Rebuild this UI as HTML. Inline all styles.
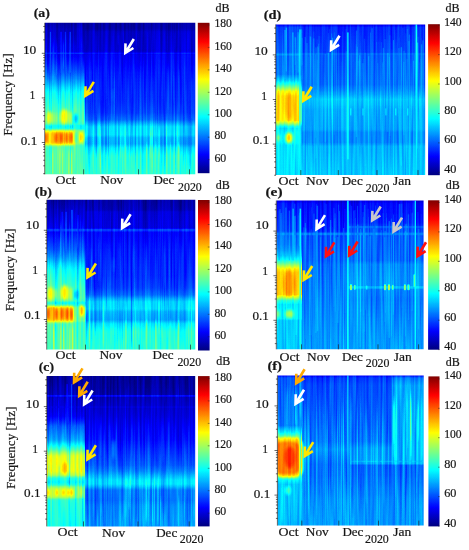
<!DOCTYPE html>
<html><head><meta charset="utf-8"><style>
html,body{margin:0;padding:0;background:#fff;}
body{width:469px;height:550px;overflow:hidden;}
svg{display:block;}
text{font-family:'Liberation Serif', 'DejaVu Serif', serif;fill:#161616;stroke:#161616;stroke-width:0.2px;}
</style></head><body>
<svg width="469" height="550" viewBox="0 0 469 550">
<defs><filter id="jet" color-interpolation-filters="sRGB" x="0" y="0" width="1" height="1">
<feTurbulence type="fractalNoise" baseFrequency="0.45 0.012" numOctaves="2" seed="5" result="n"/>
<feColorMatrix in="n" type="matrix" values="1 0 0 0 0 1 0 0 0 0 1 0 0 0 0 0 0 0 0 1" result="ng"/>
<feComposite in="SourceGraphic" in2="ng" operator="arithmetic" k1="0" k2="1" k3="0.13" k4="-0.065" result="sum"/>
<feGaussianBlur in="sum" stdDeviation="0.6 0.4"/>
<feComponentTransfer>
<feFuncR type="table" tableValues="0 0 0 0 0.5 1 1 1 0.5"/>
<feFuncG type="table" tableValues="0 0 0.5 1 1 1 0.5 0 0"/>
<feFuncB type="table" tableValues="0.5 1 1 1 0.5 0 0 0 0"/>
</feComponentTransfer></filter><filter id="jetc" color-interpolation-filters="sRGB" x="0" y="0" width="1" height="1">
<feComponentTransfer>
<feFuncR type="table" tableValues="0 0 0 0 0.5 1 1 1 0.5"/>
<feFuncG type="table" tableValues="0 0 0.5 1 1 1 0.5 0 0"/>
<feFuncB type="table" tableValues="0.5 1 1 1 0.5 0 0 0 0"/>
</feComponentTransfer></filter><filter id="b05" color-interpolation-filters="sRGB" x="-50%" y="-50%" width="200%" height="200%"><feGaussianBlur stdDeviation="0.5"/></filter><filter id="b07" color-interpolation-filters="sRGB" x="-50%" y="-50%" width="200%" height="200%"><feGaussianBlur stdDeviation="0.7"/></filter><filter id="b1" color-interpolation-filters="sRGB" x="-50%" y="-50%" width="200%" height="200%"><feGaussianBlur stdDeviation="1.0"/></filter><filter id="b15" color-interpolation-filters="sRGB" x="-50%" y="-50%" width="200%" height="200%"><feGaussianBlur stdDeviation="1.5"/></filter><filter id="b2" color-interpolation-filters="sRGB" x="-50%" y="-50%" width="200%" height="200%"><feGaussianBlur stdDeviation="2.0"/></filter><linearGradient id="sfw" x1="0" y1="0" x2="0" y2="1"><stop offset="0" stop-color="#fff" stop-opacity="0"/><stop offset="0.25" stop-color="#fff" stop-opacity="1"/><stop offset="0.85" stop-color="#fff" stop-opacity="1"/><stop offset="1" stop-color="#fff" stop-opacity="0.3"/></linearGradient><linearGradient id="sfk" x1="0" y1="0" x2="0" y2="1"><stop offset="0" stop-color="#000" stop-opacity="0"/><stop offset="0.25" stop-color="#000" stop-opacity="1"/><stop offset="0.85" stop-color="#000" stop-opacity="1"/><stop offset="1" stop-color="#000" stop-opacity="0.3"/></linearGradient><linearGradient id="cbg" x1="0" y1="1" x2="0" y2="0"><stop offset="0" stop-color="#000"/><stop offset="1" stop-color="#fff"/></linearGradient><clipPath id="clipa"><rect x="45.0" y="22.8" width="150.30" height="151.50"/></clipPath><linearGradient id="g1" gradientUnits="userSpaceOnUse" x1="0" y1="18.8" x2="0" y2="178.3"><stop offset="0.0000" stop-color="#090909"/><stop offset="0.0251" stop-color="#090909"/><stop offset="0.0627" stop-color="#0b0b0b"/><stop offset="0.0815" stop-color="#131313"/><stop offset="0.2006" stop-color="#161616"/><stop offset="0.2257" stop-color="#1f1f1f"/><stop offset="0.3386" stop-color="#252525"/><stop offset="0.5078" stop-color="#2a2a2a"/><stop offset="0.5893" stop-color="#303030"/><stop offset="0.6332" stop-color="#3b3b3b"/><stop offset="0.6583" stop-color="#4c4c4c"/><stop offset="0.6771" stop-color="#575757"/><stop offset="0.7273" stop-color="#575757"/><stop offset="0.7461" stop-color="#4c4c4c"/><stop offset="0.7837" stop-color="#4a4a4a"/><stop offset="0.8088" stop-color="#595959"/><stop offset="0.8589" stop-color="#666666"/><stop offset="0.9749" stop-color="#696969"/><stop offset="1.0000" stop-color="#696969"/></linearGradient><linearGradient id="g2" gradientUnits="userSpaceOnUse" x1="0" y1="18.8" x2="0" y2="178.3"><stop offset="0.0000" stop-color="#0a0a0a"/><stop offset="0.0251" stop-color="#0a0a0a"/><stop offset="0.0752" stop-color="#121212"/><stop offset="0.2132" stop-color="#1a1a1a"/><stop offset="0.2759" stop-color="#262626"/><stop offset="0.3386" stop-color="#363636"/><stop offset="0.3824" stop-color="#454545"/><stop offset="0.4263" stop-color="#575757"/><stop offset="0.4639" stop-color="#636363"/><stop offset="0.5266" stop-color="#6b6b6b"/><stop offset="0.5893" stop-color="#757575"/><stop offset="0.6395" stop-color="#7a7a7a"/><stop offset="0.6583" stop-color="#757575"/><stop offset="0.6708" stop-color="#636363"/><stop offset="0.6897" stop-color="#666666"/><stop offset="0.7022" stop-color="#808080"/><stop offset="0.7837" stop-color="#808080"/><stop offset="0.7962" stop-color="#737373"/><stop offset="0.9749" stop-color="#737373"/><stop offset="1.0000" stop-color="#737373"/></linearGradient><linearGradient id="fg3" x1="0" y1="0" x2="0" y2="1"><stop offset="0" stop-color="#8f8f8f" stop-opacity="0"/><stop offset="0.3" stop-color="#8f8f8f" stop-opacity="1"/><stop offset="1" stop-color="#8f8f8f" stop-opacity="1"/></linearGradient><linearGradient id="fg4" x1="0" y1="0" x2="0" y2="1"><stop offset="0" stop-color="#8c8c8c" stop-opacity="0"/><stop offset="0.3" stop-color="#8c8c8c" stop-opacity="1"/><stop offset="1" stop-color="#8c8c8c" stop-opacity="1"/></linearGradient><linearGradient id="fg5" x1="0" y1="0" x2="0" y2="1"><stop offset="0" stop-color="#919191" stop-opacity="0"/><stop offset="0.3" stop-color="#919191" stop-opacity="1"/><stop offset="1" stop-color="#919191" stop-opacity="1"/></linearGradient><linearGradient id="fg6" x1="0" y1="0" x2="0" y2="1"><stop offset="0" stop-color="#949494" stop-opacity="0"/><stop offset="0.3" stop-color="#949494" stop-opacity="1"/><stop offset="1" stop-color="#949494" stop-opacity="1"/></linearGradient><linearGradient id="fg7" x1="0" y1="0" x2="0" y2="1"><stop offset="0" stop-color="#808080" stop-opacity="0"/><stop offset="0.3" stop-color="#808080" stop-opacity="1"/><stop offset="1" stop-color="#808080" stop-opacity="1"/></linearGradient><linearGradient id="fg8" x1="0" y1="0" x2="0" y2="1"><stop offset="0" stop-color="#7a7a7a" stop-opacity="0"/><stop offset="0.3" stop-color="#7a7a7a" stop-opacity="1"/><stop offset="1" stop-color="#7a7a7a" stop-opacity="1"/></linearGradient><clipPath id="clipb"><rect x="47.0" y="199.8" width="148.30" height="149.80"/></clipPath><linearGradient id="g9" gradientUnits="userSpaceOnUse" x1="0" y1="195.8" x2="0" y2="353.6"><stop offset="0.0000" stop-color="#090909"/><stop offset="0.0253" stop-color="#090909"/><stop offset="0.0887" stop-color="#0d0d0d"/><stop offset="0.1014" stop-color="#141414"/><stop offset="0.2028" stop-color="#171717"/><stop offset="0.2281" stop-color="#1f1f1f"/><stop offset="0.3422" stop-color="#252525"/><stop offset="0.5133" stop-color="#2a2a2a"/><stop offset="0.5830" stop-color="#303030"/><stop offset="0.6274" stop-color="#3b3b3b"/><stop offset="0.6527" stop-color="#4c4c4c"/><stop offset="0.6717" stop-color="#575757"/><stop offset="0.7161" stop-color="#575757"/><stop offset="0.7351" stop-color="#4c4c4c"/><stop offset="0.7858" stop-color="#474747"/><stop offset="0.8112" stop-color="#595959"/><stop offset="0.8619" stop-color="#666666"/><stop offset="0.9747" stop-color="#696969"/><stop offset="1.0000" stop-color="#696969"/></linearGradient><linearGradient id="g10" gradientUnits="userSpaceOnUse" x1="0" y1="195.8" x2="0" y2="353.6"><stop offset="0.0000" stop-color="#0a0a0a"/><stop offset="0.0253" stop-color="#0a0a0a"/><stop offset="0.0887" stop-color="#121212"/><stop offset="0.2155" stop-color="#1c1c1c"/><stop offset="0.2788" stop-color="#292929"/><stop offset="0.3422" stop-color="#363636"/><stop offset="0.3929" stop-color="#474747"/><stop offset="0.4309" stop-color="#575757"/><stop offset="0.4689" stop-color="#636363"/><stop offset="0.5323" stop-color="#6b6b6b"/><stop offset="0.5957" stop-color="#757575"/><stop offset="0.6464" stop-color="#7a7a7a"/><stop offset="0.6654" stop-color="#757575"/><stop offset="0.6781" stop-color="#636363"/><stop offset="0.6971" stop-color="#666666"/><stop offset="0.7098" stop-color="#808080"/><stop offset="0.7921" stop-color="#808080"/><stop offset="0.8048" stop-color="#737373"/><stop offset="0.9747" stop-color="#737373"/><stop offset="1.0000" stop-color="#737373"/></linearGradient><clipPath id="clipc"><rect x="47.0" y="376.1" width="148.20" height="150.30"/></clipPath><linearGradient id="g11" gradientUnits="userSpaceOnUse" x1="0" y1="372.1" x2="0" y2="530.4"><stop offset="0.0000" stop-color="#050505"/><stop offset="0.0253" stop-color="#050505"/><stop offset="0.0758" stop-color="#080808"/><stop offset="0.1327" stop-color="#0a0a0a"/><stop offset="0.1642" stop-color="#0f0f0f"/><stop offset="0.2148" stop-color="#131313"/><stop offset="0.2780" stop-color="#171717"/><stop offset="0.4296" stop-color="#222222"/><stop offset="0.5875" stop-color="#363636"/><stop offset="0.6254" stop-color="#414141"/><stop offset="0.6570" stop-color="#4f4f4f"/><stop offset="0.6822" stop-color="#595959"/><stop offset="0.7075" stop-color="#595959"/><stop offset="0.7265" stop-color="#4c4c4c"/><stop offset="0.7454" stop-color="#3d3d3d"/><stop offset="0.8086" stop-color="#3b3b3b"/><stop offset="0.8465" stop-color="#404040"/><stop offset="0.9747" stop-color="#454545"/><stop offset="1.0000" stop-color="#454545"/></linearGradient><linearGradient id="g12" gradientUnits="userSpaceOnUse" x1="0" y1="372.1" x2="0" y2="530.4"><stop offset="0.0000" stop-color="#060606"/><stop offset="0.0253" stop-color="#060606"/><stop offset="0.0758" stop-color="#0a0a0a"/><stop offset="0.1390" stop-color="#0e0e0e"/><stop offset="0.2148" stop-color="#131313"/><stop offset="0.2780" stop-color="#1a1a1a"/><stop offset="0.3095" stop-color="#262626"/><stop offset="0.3411" stop-color="#363636"/><stop offset="0.3917" stop-color="#424242"/><stop offset="0.4296" stop-color="#4c4c4c"/><stop offset="0.4611" stop-color="#616161"/><stop offset="0.4927" stop-color="#787878"/><stop offset="0.5117" stop-color="#8c8c8c"/><stop offset="0.5306" stop-color="#999999"/><stop offset="0.6254" stop-color="#9e9e9e"/><stop offset="0.6507" stop-color="#8f8f8f"/><stop offset="0.6696" stop-color="#6b6b6b"/><stop offset="0.6949" stop-color="#616161"/><stop offset="0.7138" stop-color="#6b6b6b"/><stop offset="0.7265" stop-color="#7d7d7d"/><stop offset="0.7896" stop-color="#7d7d7d"/><stop offset="0.8023" stop-color="#6b6b6b"/><stop offset="0.9747" stop-color="#636363"/><stop offset="1.0000" stop-color="#636363"/></linearGradient><linearGradient id="fg13" x1="0" y1="0" x2="0" y2="1"><stop offset="0" stop-color="#5c5c5c" stop-opacity="0"/><stop offset="0.3" stop-color="#5c5c5c" stop-opacity="1"/><stop offset="1" stop-color="#5c5c5c" stop-opacity="1"/></linearGradient><clipPath id="clipd"><rect x="276.0" y="24.4" width="149.20" height="150.70"/></clipPath><linearGradient id="g14" gradientUnits="userSpaceOnUse" x1="0" y1="20.4" x2="0" y2="179.1"><stop offset="0.0000" stop-color="#1a1a1a"/><stop offset="0.0252" stop-color="#1a1a1a"/><stop offset="0.0441" stop-color="#2b2b2b"/><stop offset="0.2016" stop-color="#303030"/><stop offset="0.2111" stop-color="#3b3b3b"/><stop offset="0.2205" stop-color="#363636"/><stop offset="0.4033" stop-color="#383838"/><stop offset="0.4411" stop-color="#404040"/><stop offset="0.4663" stop-color="#474747"/><stop offset="0.4978" stop-color="#525252"/><stop offset="0.5293" stop-color="#4f4f4f"/><stop offset="0.5671" stop-color="#4a4a4a"/><stop offset="0.6868" stop-color="#474747"/><stop offset="0.7057" stop-color="#404040"/><stop offset="0.7687" stop-color="#404040"/><stop offset="0.7940" stop-color="#4c4c4c"/><stop offset="0.9748" stop-color="#525252"/><stop offset="1.0000" stop-color="#525252"/></linearGradient><linearGradient id="g15" gradientUnits="userSpaceOnUse" x1="0" y1="20.4" x2="0" y2="179.1"><stop offset="0.0000" stop-color="#1a1a1a"/><stop offset="0.0252" stop-color="#1a1a1a"/><stop offset="0.0441" stop-color="#2e2e2e"/><stop offset="0.2016" stop-color="#333333"/><stop offset="0.2142" stop-color="#424242"/><stop offset="0.2268" stop-color="#383838"/><stop offset="0.3403" stop-color="#3d3d3d"/><stop offset="0.3781" stop-color="#545454"/><stop offset="0.4033" stop-color="#696969"/><stop offset="0.4222" stop-color="#808080"/><stop offset="0.4474" stop-color="#9e9e9e"/><stop offset="0.4789" stop-color="#a8a8a8"/><stop offset="0.6301" stop-color="#a8a8a8"/><stop offset="0.6490" stop-color="#8c8c8c"/><stop offset="0.6679" stop-color="#666666"/><stop offset="0.6805" stop-color="#5c5c5c"/><stop offset="0.7057" stop-color="#616161"/><stop offset="0.7687" stop-color="#616161"/><stop offset="0.7876" stop-color="#5c5c5c"/><stop offset="0.9748" stop-color="#595959"/><stop offset="1.0000" stop-color="#595959"/></linearGradient><clipPath id="clipe"><rect x="276.6" y="200.6" width="147.00" height="148.70"/></clipPath><linearGradient id="g16" gradientUnits="userSpaceOnUse" x1="0" y1="196.6" x2="0" y2="353.3"><stop offset="0.0000" stop-color="#171717"/><stop offset="0.0255" stop-color="#171717"/><stop offset="0.0447" stop-color="#212121"/><stop offset="0.2106" stop-color="#262626"/><stop offset="0.2425" stop-color="#303030"/><stop offset="0.4084" stop-color="#343434"/><stop offset="0.4340" stop-color="#383838"/><stop offset="0.6573" stop-color="#3e3e3e"/><stop offset="0.7849" stop-color="#424242"/><stop offset="0.9745" stop-color="#474747"/><stop offset="1.0000" stop-color="#474747"/></linearGradient><linearGradient id="g17" gradientUnits="userSpaceOnUse" x1="0" y1="196.6" x2="0" y2="353.3"><stop offset="0.0000" stop-color="#1a1a1a"/><stop offset="0.0255" stop-color="#1a1a1a"/><stop offset="0.0447" stop-color="#262626"/><stop offset="0.2170" stop-color="#2e2e2e"/><stop offset="0.2425" stop-color="#383838"/><stop offset="0.3063" stop-color="#3d3d3d"/><stop offset="0.3446" stop-color="#454545"/><stop offset="0.3765" stop-color="#525252"/><stop offset="0.4020" stop-color="#616161"/><stop offset="0.4212" stop-color="#737373"/><stop offset="0.4403" stop-color="#8a8a8a"/><stop offset="0.4595" stop-color="#a1a1a1"/><stop offset="0.4850" stop-color="#ababab"/><stop offset="0.6254" stop-color="#ababab"/><stop offset="0.6445" stop-color="#8f8f8f"/><stop offset="0.6637" stop-color="#6b6b6b"/><stop offset="0.6892" stop-color="#5c5c5c"/><stop offset="0.7147" stop-color="#5e5e5e"/><stop offset="0.7786" stop-color="#5e5e5e"/><stop offset="0.7913" stop-color="#545454"/><stop offset="0.9745" stop-color="#525252"/><stop offset="1.0000" stop-color="#525252"/></linearGradient><linearGradient id="g18" gradientUnits="userSpaceOnUse" x1="0" y1="196.6" x2="0" y2="353.3"><stop offset="0.0000" stop-color="#171717"/><stop offset="0.0255" stop-color="#171717"/><stop offset="0.0447" stop-color="#212121"/><stop offset="0.1659" stop-color="#262626"/><stop offset="0.1914" stop-color="#2e2e2e"/><stop offset="0.2425" stop-color="#333333"/><stop offset="0.4084" stop-color="#363636"/><stop offset="0.4340" stop-color="#404040"/><stop offset="0.5616" stop-color="#454545"/><stop offset="0.5999" stop-color="#404040"/><stop offset="0.6573" stop-color="#3d3d3d"/><stop offset="0.7849" stop-color="#424242"/><stop offset="0.9745" stop-color="#474747"/><stop offset="1.0000" stop-color="#474747"/></linearGradient><clipPath id="clipf"><rect x="277.7" y="375.4" width="146.00" height="150.20"/></clipPath><linearGradient id="g19" gradientUnits="userSpaceOnUse" x1="0" y1="371.4" x2="0" y2="529.6"><stop offset="0.0000" stop-color="#1f1f1f"/><stop offset="0.0253" stop-color="#1f1f1f"/><stop offset="0.0411" stop-color="#2e2e2e"/><stop offset="0.0885" stop-color="#333333"/><stop offset="0.3413" stop-color="#363636"/><stop offset="0.4425" stop-color="#393939"/><stop offset="0.4930" stop-color="#414141"/><stop offset="0.5436" stop-color="#3b3b3b"/><stop offset="0.5879" stop-color="#373737"/><stop offset="0.6574" stop-color="#383838"/><stop offset="0.8154" stop-color="#424242"/><stop offset="0.9747" stop-color="#474747"/><stop offset="1.0000" stop-color="#474747"/></linearGradient><linearGradient id="g20" gradientUnits="userSpaceOnUse" x1="0" y1="371.4" x2="0" y2="529.6"><stop offset="0.0000" stop-color="#1f1f1f"/><stop offset="0.0253" stop-color="#1f1f1f"/><stop offset="0.0411" stop-color="#333333"/><stop offset="0.3413" stop-color="#3d3d3d"/><stop offset="0.3603" stop-color="#4c4c4c"/><stop offset="0.3856" stop-color="#5e5e5e"/><stop offset="0.4046" stop-color="#737373"/><stop offset="0.4235" stop-color="#858585"/><stop offset="0.6448" stop-color="#808080"/><stop offset="0.6637" stop-color="#707070"/><stop offset="0.6890" stop-color="#5e5e5e"/><stop offset="0.7143" stop-color="#525252"/><stop offset="0.9747" stop-color="#4c4c4c"/><stop offset="1.0000" stop-color="#4c4c4c"/></linearGradient><linearGradient id="g21" gradientUnits="userSpaceOnUse" x1="0" y1="371.4" x2="0" y2="529.6"><stop offset="0.0000" stop-color="#1f1f1f"/><stop offset="0.0253" stop-color="#1f1f1f"/><stop offset="0.0411" stop-color="#2e2e2e"/><stop offset="0.0885" stop-color="#333333"/><stop offset="0.3413" stop-color="#373737"/><stop offset="0.4425" stop-color="#3b3b3b"/><stop offset="0.4867" stop-color="#454545"/><stop offset="0.5815" stop-color="#474747"/><stop offset="0.5942" stop-color="#363636"/><stop offset="0.6574" stop-color="#383838"/><stop offset="0.8154" stop-color="#424242"/><stop offset="0.9747" stop-color="#474747"/><stop offset="1.0000" stop-color="#474747"/></linearGradient><linearGradient id="g22" gradientUnits="userSpaceOnUse" x1="0" y1="371.4" x2="0" y2="529.6"><stop offset="0.0000" stop-color="#1f1f1f"/><stop offset="0.0253" stop-color="#1f1f1f"/><stop offset="0.0411" stop-color="#3d3d3d"/><stop offset="0.0885" stop-color="#494949"/><stop offset="0.4046" stop-color="#4a4a4a"/><stop offset="0.4867" stop-color="#4c4c4c"/><stop offset="0.5815" stop-color="#4c4c4c"/><stop offset="0.5942" stop-color="#373737"/><stop offset="0.6574" stop-color="#383838"/><stop offset="0.8154" stop-color="#424242"/><stop offset="0.9747" stop-color="#474747"/><stop offset="1.0000" stop-color="#474747"/></linearGradient></defs>
<rect width="469" height="550" fill="#fff"/>
<g clip-path="url(#clipa)"><g filter="url(#jet)"><rect x="41.00" y="18.80" width="158.30" height="159.50" fill="url(#g1)"/><rect x="41.00" y="18.80" width="43.60" height="159.50" fill="url(#g2)"/><rect x="117.7" y="66.3" width="1.6" height="53.8" fill="url(#sfw)" opacity="0.02"/><rect x="90.4" y="58.0" width="1.6" height="58.8" fill="url(#sfw)" opacity="0.02"/><rect x="114.1" y="55.0" width="1.4" height="67.8" fill="url(#sfw)" opacity="0.01"/><rect x="151.7" y="66.2" width="1.1" height="56.6" fill="url(#sfw)" opacity="0.01"/><rect x="183.9" y="56.0" width="1.4" height="66.8" fill="url(#sfw)" opacity="0.02"/><rect x="167.0" y="62.5" width="1.6" height="47.7" fill="url(#sfw)" opacity="0.03"/><rect x="110.8" y="66.7" width="1.7" height="54.9" fill="url(#sfw)" opacity="0.02"/><rect x="139.4" y="60.1" width="1.5" height="62.7" fill="url(#sfw)" opacity="0.02"/><rect x="96.0" y="58.9" width="1.5" height="63.9" fill="url(#sfw)" opacity="0.01"/><rect x="162.8" y="62.8" width="1.0" height="40.0" fill="url(#sfw)" opacity="0.02"/><rect x="190.7" y="70.5" width="1.7" height="52.3" fill="url(#sfw)" opacity="0.03"/><rect x="128.1" y="61.8" width="1.4" height="61.0" fill="url(#sfw)" opacity="0.02"/><rect x="182.2" y="63.7" width="1.5" height="55.2" fill="url(#sfw)" opacity="0.01"/><rect x="134.3" y="56.2" width="0.9" height="59.5" fill="url(#sfw)" opacity="0.02"/><rect x="113.6" y="70.7" width="1.5" height="47.4" fill="url(#sfw)" opacity="0.03"/><rect x="190.9" y="56.3" width="1.8" height="66.5" fill="url(#sfw)" opacity="0.02"/><rect x="89.3" y="54.1" width="1.1" height="68.7" fill="url(#sfw)" opacity="0.02"/><rect x="173.8" y="66.5" width="1.4" height="56.3" fill="url(#sfw)" opacity="0.02"/><rect x="90.9" y="55.7" width="1.0" height="63.3" fill="url(#sfw)" opacity="0.02"/><rect x="158.2" y="55.5" width="1.1" height="67.3" fill="url(#sfw)" opacity="0.03"/><rect x="137.0" y="65.9" width="1.6" height="42.1" fill="url(#sfw)" opacity="0.02"/><rect x="95.4" y="59.1" width="1.6" height="63.7" fill="url(#sfw)" opacity="0.03"/><rect x="173.0" y="69.7" width="1.0" height="33.1" fill="url(#sfw)" opacity="0.03"/><rect x="170.2" y="68.4" width="1.3" height="50.6" fill="url(#sfw)" opacity="0.03"/><rect x="178.4" y="67.7" width="1.4" height="44.7" fill="url(#sfw)" opacity="0.03"/><rect x="168.2" y="59.2" width="1.2" height="58.7" fill="url(#sfw)" opacity="0.03"/><rect x="123.8" y="54.8" width="1.0" height="68.0" fill="url(#sfw)" opacity="0.01"/><rect x="107.9" y="62.5" width="1.1" height="60.3" fill="url(#sfw)" opacity="0.01"/><rect x="142.2" y="54.2" width="1.6" height="68.6" fill="url(#sfw)" opacity="0.02"/><rect x="153.0" y="70.9" width="1.4" height="51.9" fill="url(#sfw)" opacity="0.02"/><rect x="124.1" y="126.4" width="1.7" height="47.9" fill="url(#sfw)" opacity="0.03"/><rect x="151.5" y="124.7" width="1.5" height="49.6" fill="url(#sfw)" opacity="0.07"/><rect x="94.8" y="122.6" width="0.9" height="51.7" fill="url(#sfw)" opacity="0.04"/><rect x="86.3" y="120.3" width="1.1" height="43.5" fill="url(#sfw)" opacity="0.04"/><rect x="130.4" y="116.1" width="1.3" height="58.2" fill="url(#sfw)" opacity="0.02"/><rect x="151.1" y="124.8" width="1.2" height="49.5" fill="url(#sfw)" opacity="0.03"/><rect x="124.5" y="113.7" width="1.7" height="60.6" fill="url(#sfw)" opacity="0.03"/><rect x="108.9" y="118.6" width="1.4" height="44.5" fill="url(#sfw)" opacity="0.07"/><rect x="158.3" y="122.2" width="1.1" height="52.1" fill="url(#sfw)" opacity="0.02"/><rect x="100.2" y="122.7" width="1.2" height="51.6" fill="url(#sfw)" opacity="0.03"/><rect x="191.4" y="123.5" width="1.2" height="50.8" fill="url(#sfw)" opacity="0.03"/><rect x="106.9" y="112.9" width="1.4" height="61.4" fill="url(#sfw)" opacity="0.06"/><rect x="119.9" y="120.2" width="0.9" height="38.2" fill="url(#sfw)" opacity="0.04"/><rect x="149.8" y="116.7" width="1.1" height="57.6" fill="url(#sfw)" opacity="0.05"/><rect x="158.9" y="122.2" width="1.1" height="40.8" fill="url(#sfw)" opacity="0.05"/><rect x="99.2" y="116.8" width="1.2" height="52.6" fill="url(#sfw)" opacity="0.04"/><rect x="128.9" y="117.1" width="0.8" height="44.5" fill="url(#sfw)" opacity="0.04"/><rect x="125.1" y="118.4" width="1.2" height="51.3" fill="url(#sfw)" opacity="0.06"/><rect x="91.1" y="125.1" width="1.4" height="42.2" fill="url(#sfw)" opacity="0.04"/><rect x="123.8" y="117.8" width="1.3" height="56.5" fill="url(#sfw)" opacity="0.06"/><rect x="183.6" y="123.7" width="1.2" height="46.6" fill="url(#sfw)" opacity="0.04"/><rect x="99.9" y="121.7" width="1.1" height="52.6" fill="url(#sfw)" opacity="0.06"/><rect x="151.6" y="116.4" width="1.3" height="57.9" fill="url(#sfw)" opacity="0.05"/><rect x="92.5" y="117.8" width="1.7" height="56.5" fill="url(#sfw)" opacity="0.04"/><rect x="176.6" y="121.0" width="1.3" height="53.3" fill="url(#sfw)" opacity="0.05"/><rect x="126.7" y="126.3" width="1.2" height="48.0" fill="url(#sfw)" opacity="0.06"/><rect x="116.9" y="115.0" width="1.0" height="57.2" fill="url(#sfw)" opacity="0.05"/><rect x="174.1" y="127.7" width="1.2" height="46.6" fill="url(#sfw)" opacity="0.06"/><rect x="165.8" y="119.7" width="1.5" height="53.7" fill="url(#sfw)" opacity="0.06"/><rect x="92.3" y="123.5" width="1.0" height="50.8" fill="url(#sfw)" opacity="0.03"/><rect x="145.2" y="120.5" width="1.3" height="40.7" fill="url(#sfw)" opacity="0.03"/><rect x="136.1" y="123.5" width="1.4" height="50.8" fill="url(#sfw)" opacity="0.03"/><rect x="158.8" y="125.6" width="1.5" height="31.8" fill="url(#sfw)" opacity="0.04"/><rect x="156.9" y="121.7" width="1.7" height="52.6" fill="url(#sfw)" opacity="0.05"/><rect x="155.8" y="117.8" width="0.9" height="38.2" fill="url(#sfw)" opacity="0.07"/><rect x="97.6" y="117.7" width="1.8" height="56.6" fill="url(#sfw)" opacity="0.06"/><rect x="132.9" y="117.8" width="1.0" height="56.5" fill="url(#sfw)" opacity="0.04"/><rect x="149.5" y="126.9" width="1.8" height="31.5" fill="url(#sfw)" opacity="0.07"/><rect x="93.5" y="122.5" width="1.2" height="33.9" fill="url(#sfw)" opacity="0.02"/><rect x="177.0" y="128.0" width="1.6" height="46.3" fill="url(#sfw)" opacity="0.02"/><rect x="165.8" y="115.9" width="1.3" height="58.4" fill="url(#sfw)" opacity="0.04"/><rect x="120.2" y="126.6" width="1.2" height="31.2" fill="url(#sfw)" opacity="0.04"/><rect x="168.4" y="125.0" width="1.0" height="44.5" fill="url(#sfw)" opacity="0.03"/><rect x="131.1" y="124.9" width="1.6" height="49.4" fill="url(#sfw)" opacity="0.05"/><rect x="140.0" y="115.1" width="1.0" height="59.2" fill="url(#sfw)" opacity="0.03"/><rect x="125.2" y="119.9" width="1.7" height="54.4" fill="url(#sfw)" opacity="0.02"/><rect x="136.2" y="113.7" width="1.5" height="59.9" fill="url(#sfw)" opacity="0.06"/><rect x="112.5" y="113.8" width="1.6" height="60.5" fill="url(#sfw)" opacity="0.03"/><rect x="99.1" y="122.6" width="1.6" height="51.7" fill="url(#sfw)" opacity="0.03"/><rect x="154.8" y="126.5" width="1.0" height="47.8" fill="url(#sfw)" opacity="0.06"/><rect x="131.6" y="102.7" width="0.8" height="50.6" fill="url(#sfk)" opacity="0.05"/><rect x="142.1" y="85.4" width="1.7" height="88.9" fill="url(#sfk)" opacity="0.05"/><rect x="95.4" y="104.1" width="1.7" height="53.8" fill="url(#sfk)" opacity="0.11"/><rect x="123.1" y="93.1" width="0.8" height="81.2" fill="url(#sfk)" opacity="0.07"/><rect x="182.2" y="87.1" width="1.3" height="87.2" fill="url(#sfk)" opacity="0.07"/><rect x="183.1" y="87.8" width="0.8" height="86.5" fill="url(#sfk)" opacity="0.08"/><rect x="183.1" y="102.5" width="1.5" height="62.4" fill="url(#sfk)" opacity="0.08"/><rect x="175.1" y="83.2" width="1.0" height="91.1" fill="url(#sfk)" opacity="0.12"/><rect x="107.7" y="87.1" width="1.3" height="69.6" fill="url(#sfk)" opacity="0.08"/><rect x="115.6" y="87.9" width="1.1" height="70.3" fill="url(#sfk)" opacity="0.06"/><rect x="155.9" y="86.9" width="1.7" height="87.4" fill="url(#sfk)" opacity="0.05"/><rect x="144.3" y="91.0" width="1.6" height="83.3" fill="url(#sfk)" opacity="0.08"/><rect x="94.2" y="105.4" width="1.4" height="68.9" fill="url(#sfk)" opacity="0.08"/><rect x="188.8" y="83.4" width="1.8" height="90.9" fill="url(#sfk)" opacity="0.05"/><rect x="126.1" y="102.3" width="1.5" height="72.0" fill="url(#sfk)" opacity="0.07"/><rect x="174.2" y="90.9" width="1.0" height="64.9" fill="url(#sfk)" opacity="0.05"/><rect x="87.9" y="98.2" width="1.7" height="76.1" fill="url(#sfk)" opacity="0.08"/><rect x="161.6" y="90.3" width="1.1" height="83.2" fill="url(#sfk)" opacity="0.12"/><rect x="186.2" y="90.8" width="1.1" height="58.0" fill="url(#sfk)" opacity="0.05"/><rect x="104.4" y="84.1" width="1.5" height="90.2" fill="url(#sfk)" opacity="0.06"/><rect x="161.5" y="85.6" width="1.3" height="88.7" fill="url(#sfk)" opacity="0.06"/><rect x="189.3" y="102.2" width="1.8" height="72.1" fill="url(#sfk)" opacity="0.09"/><rect x="167.3" y="103.9" width="1.1" height="70.4" fill="url(#sfk)" opacity="0.04"/><rect x="100.0" y="84.3" width="1.4" height="74.6" fill="url(#sfk)" opacity="0.11"/><rect x="147.1" y="90.5" width="1.6" height="83.8" fill="url(#sfk)" opacity="0.08"/><rect x="130.3" y="86.6" width="1.5" height="69.7" fill="url(#sfk)" opacity="0.11"/><rect x="149.3" y="82.8" width="0.9" height="64.5" fill="url(#sfk)" opacity="0.09"/><rect x="190.1" y="89.3" width="1.2" height="85.0" fill="url(#sfk)" opacity="0.07"/><rect x="107.7" y="100.1" width="1.6" height="74.2" fill="url(#sfk)" opacity="0.05"/><rect x="101.3" y="95.2" width="1.1" height="79.1" fill="url(#sfk)" opacity="0.11"/><rect x="115.0" y="94.5" width="1.3" height="60.7" fill="url(#sfk)" opacity="0.06"/><rect x="105.7" y="90.9" width="1.8" height="64.9" fill="url(#sfk)" opacity="0.08"/><rect x="187.2" y="94.6" width="1.1" height="79.7" fill="url(#sfk)" opacity="0.11"/><rect x="88.9" y="84.5" width="1.3" height="89.8" fill="url(#sfk)" opacity="0.04"/><rect x="164.2" y="102.5" width="1.4" height="71.8" fill="url(#sfk)" opacity="0.12"/><rect x="90.5" y="93.8" width="1.7" height="69.9" fill="url(#sfk)" opacity="0.05"/><rect x="126.2" y="89.2" width="1.4" height="85.1" fill="url(#sfk)" opacity="0.10"/><rect x="157.3" y="102.2" width="0.9" height="72.1" fill="url(#sfk)" opacity="0.08"/><rect x="108.1" y="101.9" width="1.5" height="72.4" fill="url(#sfk)" opacity="0.07"/><rect x="135.0" y="85.1" width="1.1" height="89.2" fill="url(#sfk)" opacity="0.11"/><rect x="159.0" y="32.0" width="0.8" height="20.8" fill="url(#sfw)" opacity="0.01"/><rect x="112.7" y="31.5" width="1.5" height="21.3" fill="url(#sfw)" opacity="0.01"/><rect x="122.7" y="30.0" width="1.3" height="18.4" fill="url(#sfw)" opacity="0.02"/><rect x="137.9" y="30.1" width="1.6" height="17.9" fill="url(#sfw)" opacity="0.02"/><rect x="136.0" y="30.3" width="0.9" height="15.7" fill="url(#sfw)" opacity="0.02"/><rect x="118.4" y="33.6" width="1.2" height="11.8" fill="url(#sfw)" opacity="0.01"/><rect x="95.2" y="30.3" width="1.3" height="22.5" fill="url(#sfw)" opacity="0.02"/><rect x="147.4" y="31.0" width="1.2" height="20.2" fill="url(#sfw)" opacity="0.02"/><rect x="117.5" y="32.8" width="1.3" height="12.6" fill="url(#sfw)" opacity="0.02"/><rect x="96.5" y="33.5" width="1.3" height="18.0" fill="url(#sfw)" opacity="0.01"/><rect x="166.8" y="32.5" width="1.5" height="19.9" fill="url(#sfw)" opacity="0.02"/><rect x="116.6" y="31.3" width="1.1" height="21.5" fill="url(#sfw)" opacity="0.01"/><rect x="152.3" y="31.0" width="1.6" height="21.8" fill="url(#sfw)" opacity="0.01"/><rect x="187.1" y="28.3" width="1.7" height="24.5" fill="url(#sfw)" opacity="0.01"/><rect x="120.7" y="29.7" width="1.0" height="23.1" fill="url(#sfw)" opacity="0.02"/><rect x="164.0" y="31.4" width="1.0" height="17.5" fill="url(#sfw)" opacity="0.01"/><rect x="85.6" y="33.3" width="1.7" height="12.4" fill="url(#sfw)" opacity="0.01"/><rect x="173.9" y="31.1" width="1.5" height="19.8" fill="url(#sfw)" opacity="0.02"/><rect x="96.9" y="29.0" width="1.3" height="19.1" fill="url(#sfw)" opacity="0.01"/><rect x="170.1" y="29.3" width="0.9" height="23.5" fill="url(#sfw)" opacity="0.01"/><rect x="56.4" y="42.4" width="1.5" height="33.2" fill="url(#sfw)" opacity="0.03"/><rect x="55.9" y="36.6" width="1.2" height="38.6" fill="url(#sfw)" opacity="0.05"/><rect x="80.9" y="36.3" width="0.8" height="31.3" fill="url(#sfw)" opacity="0.04"/><rect x="62.7" y="37.6" width="1.5" height="31.3" fill="url(#sfw)" opacity="0.06"/><rect x="65.5" y="32.3" width="1.0" height="42.1" fill="url(#sfw)" opacity="0.05"/><rect x="52.3" y="41.0" width="1.7" height="41.8" fill="url(#sfw)" opacity="0.05"/><rect x="74.6" y="37.7" width="0.9" height="45.1" fill="url(#sfw)" opacity="0.02"/><rect x="73.4" y="33.6" width="1.3" height="49.2" fill="url(#sfw)" opacity="0.03"/><rect x="52.4" y="34.0" width="1.3" height="39.2" fill="url(#sfw)" opacity="0.03"/><rect x="54.1" y="31.0" width="0.9" height="51.2" fill="url(#sfw)" opacity="0.02"/><rect x="49.2" y="37.0" width="1.4" height="36.2" fill="url(#sfw)" opacity="0.03"/><rect x="45.7" y="40.7" width="0.9" height="41.6" fill="url(#sfw)" opacity="0.05"/><rect x="62.8" y="98.8" width="1.3" height="57.1" fill="url(#sfw)" opacity="0.02"/><rect x="54.3" y="87.2" width="1.7" height="87.1" fill="url(#sfw)" opacity="0.02"/><rect x="78.2" y="85.3" width="1.1" height="73.2" fill="url(#sfw)" opacity="0.03"/><rect x="74.2" y="85.5" width="1.7" height="82.3" fill="url(#sfw)" opacity="0.03"/><rect x="57.1" y="96.3" width="1.2" height="78.0" fill="url(#sfw)" opacity="0.03"/><rect x="78.4" y="87.3" width="1.8" height="87.0" fill="url(#sfw)" opacity="0.01"/><rect x="65.8" y="87.6" width="1.3" height="86.7" fill="url(#sfw)" opacity="0.02"/><rect x="83.2" y="91.0" width="1.5" height="71.2" fill="url(#sfw)" opacity="0.02"/><rect x="81.0" y="88.5" width="1.3" height="62.6" fill="url(#sfw)" opacity="0.01"/><rect x="49.0" y="97.2" width="1.6" height="74.1" fill="url(#sfw)" opacity="0.03"/><rect x="74.2" y="38.2" width="1.3" height="104.5" fill="url(#sfk)" opacity="0.06"/><rect x="56.2" y="36.9" width="1.7" height="105.8" fill="url(#sfk)" opacity="0.06"/><rect x="83.6" y="62.2" width="1.4" height="112.1" fill="url(#sfk)" opacity="0.07"/><rect x="59.5" y="49.2" width="1.8" height="92.0" fill="url(#sfk)" opacity="0.09"/><rect x="50.8" y="35.6" width="1.3" height="138.7" fill="url(#sfk)" opacity="0.12"/><rect x="71.5" y="62.1" width="1.5" height="112.2" fill="url(#sfk)" opacity="0.07"/><rect x="70.0" y="39.4" width="1.3" height="133.3" fill="url(#sfk)" opacity="0.11"/><rect x="57.9" y="29.9" width="1.6" height="115.6" fill="url(#sfk)" opacity="0.10"/><rect x="46.6" y="59.5" width="0.9" height="100.4" fill="url(#sfk)" opacity="0.04"/><rect x="80.0" y="29.4" width="1.6" height="134.3" fill="url(#sfk)" opacity="0.05"/><rect x="65.7" y="60.8" width="0.8" height="113.5" fill="url(#sfk)" opacity="0.07"/><rect x="48.8" y="31.9" width="1.5" height="141.0" fill="url(#sfk)" opacity="0.08"/><rect x="57.2" y="59.9" width="1.8" height="77.7" fill="url(#sfk)" opacity="0.08"/><rect x="71.8" y="34.2" width="1.6" height="110.1" fill="url(#sfk)" opacity="0.05"/><rect x="72.0" y="58.6" width="1.3" height="109.7" fill="url(#sfk)" opacity="0.05"/><rect x="45.00" y="52.50" width="39.60" height="1.60" fill="#303030" opacity="0.8" filter="url(#b05)"/><rect x="84.60" y="52.50" width="110.70" height="1.60" fill="#2b2b2b" opacity="0.6" filter="url(#b05)"/><rect x="45.00" y="130.60" width="29.50" height="14.40" fill="#adadad" filter="url(#b15)"/><ellipse cx="46.20" cy="137.80" rx="1.30" ry="5.20" fill="#d6d6d6" opacity="0.9" filter="url(#b1)"/><ellipse cx="56.00" cy="137.80" rx="1.30" ry="5.20" fill="#d6d6d6" opacity="0.9" filter="url(#b1)"/><ellipse cx="61.50" cy="137.80" rx="1.30" ry="5.20" fill="#d6d6d6" opacity="0.9" filter="url(#b1)"/><ellipse cx="66.50" cy="137.80" rx="1.30" ry="5.20" fill="#d6d6d6" opacity="0.9" filter="url(#b1)"/><ellipse cx="71.00" cy="137.80" rx="1.30" ry="5.20" fill="#d6d6d6" opacity="0.9" filter="url(#b1)"/><ellipse cx="112.70" cy="95.40" rx="1.00" ry="7.00" fill="#383838" filter="url(#b15)"/><ellipse cx="81.00" cy="137.30" rx="2.80" ry="6.00" fill="#b2b2b2" filter="url(#b15)"/><ellipse cx="49.50" cy="117.80" rx="3.00" ry="6.50" fill="#9e9e9e" filter="url(#b15)"/><ellipse cx="55.00" cy="117.80" rx="1.50" ry="5.00" fill="#8c8c8c" filter="url(#b15)"/><ellipse cx="64.50" cy="116.80" rx="4.20" ry="7.50" fill="#a1a1a1" filter="url(#b15)"/><ellipse cx="70.50" cy="117.80" rx="2.00" ry="6.50" fill="#919191" filter="url(#b15)"/><ellipse cx="75.60" cy="118.80" rx="2.00" ry="5.50" fill="#404040" filter="url(#b15)"/><ellipse cx="76.30" cy="137.30" rx="1.60" ry="6.00" fill="#6b6b6b" filter="url(#b15)"/><rect x="52.00" y="145.80" width="1.50" height="28.00" fill="url(#fg3)" opacity="0.7" filter="url(#b05)"/><rect x="59.00" y="145.80" width="1.50" height="28.00" fill="url(#fg4)" opacity="0.6" filter="url(#b05)"/><rect x="62.00" y="145.80" width="1.50" height="28.00" fill="url(#fg5)" opacity="0.7" filter="url(#b05)"/><rect x="68.00" y="145.80" width="1.50" height="28.00" fill="url(#fg3)" opacity="0.6" filter="url(#b05)"/><rect x="71.00" y="145.80" width="1.50" height="28.00" fill="url(#fg6)" opacity="0.7" filter="url(#b05)"/><rect x="49.80" y="31.80" width="1.30" height="41.00" fill="#383838" opacity="0.6" filter="url(#b05)"/><rect x="60.40" y="31.80" width="1.30" height="41.00" fill="#3d3d3d" opacity="0.6" filter="url(#b05)"/><rect x="64.70" y="31.80" width="1.30" height="41.00" fill="#3b3b3b" opacity="0.6" filter="url(#b05)"/><rect x="69.50" y="31.80" width="1.30" height="41.00" fill="#424242" opacity="0.7" filter="url(#b05)"/><rect x="146.00" y="140.80" width="1.50" height="33.00" fill="url(#fg7)" opacity="0.6" filter="url(#b05)"/><rect x="155.00" y="140.80" width="1.50" height="33.00" fill="url(#fg7)" opacity="0.6" filter="url(#b05)"/><rect x="178.00" y="140.80" width="1.50" height="33.00" fill="url(#fg7)" opacity="0.6" filter="url(#b05)"/><rect x="125.00" y="140.80" width="1.50" height="33.00" fill="url(#fg8)" opacity="0.5" filter="url(#b05)"/><rect x="170.00" y="140.80" width="1.50" height="33.00" fill="url(#fg8)" opacity="0.5" filter="url(#b05)"/></g></g><rect x="197.8" y="22.8" width="11.70" height="150.40" fill="url(#cbg)" filter="url(#jetc)"/><g clip-path="url(#clipb)"><g filter="url(#jet)"><rect x="43.00" y="195.80" width="156.30" height="157.80" fill="url(#g9)"/><rect x="43.00" y="195.80" width="42.50" height="157.80" fill="url(#g10)"/><rect x="89.3" y="239.5" width="1.0" height="60.3" fill="url(#sfw)" opacity="0.02"/><rect x="100.0" y="247.8" width="1.5" height="33.4" fill="url(#sfw)" opacity="0.02"/><rect x="97.6" y="235.5" width="1.7" height="46.5" fill="url(#sfw)" opacity="0.02"/><rect x="106.3" y="237.3" width="1.0" height="62.5" fill="url(#sfw)" opacity="0.02"/><rect x="107.3" y="235.9" width="1.4" height="63.9" fill="url(#sfw)" opacity="0.02"/><rect x="144.1" y="248.0" width="1.8" height="51.8" fill="url(#sfw)" opacity="0.01"/><rect x="189.5" y="231.4" width="1.0" height="68.4" fill="url(#sfw)" opacity="0.02"/><rect x="91.1" y="245.6" width="1.2" height="54.2" fill="url(#sfw)" opacity="0.03"/><rect x="133.4" y="236.5" width="1.5" height="63.3" fill="url(#sfw)" opacity="0.02"/><rect x="90.8" y="243.3" width="0.9" height="36.4" fill="url(#sfw)" opacity="0.02"/><rect x="172.0" y="246.8" width="0.9" height="41.2" fill="url(#sfw)" opacity="0.02"/><rect x="132.3" y="243.0" width="1.7" height="56.8" fill="url(#sfw)" opacity="0.03"/><rect x="151.4" y="237.1" width="1.7" height="62.7" fill="url(#sfw)" opacity="0.02"/><rect x="181.5" y="242.8" width="1.5" height="50.1" fill="url(#sfw)" opacity="0.02"/><rect x="158.5" y="232.1" width="1.1" height="67.7" fill="url(#sfw)" opacity="0.02"/><rect x="119.6" y="239.9" width="1.0" height="40.8" fill="url(#sfw)" opacity="0.02"/><rect x="118.1" y="236.7" width="1.4" height="63.1" fill="url(#sfw)" opacity="0.02"/><rect x="98.3" y="232.1" width="1.2" height="52.9" fill="url(#sfw)" opacity="0.03"/><rect x="134.6" y="241.1" width="1.4" height="55.0" fill="url(#sfw)" opacity="0.01"/><rect x="145.4" y="241.6" width="1.8" height="38.0" fill="url(#sfw)" opacity="0.02"/><rect x="107.0" y="244.1" width="1.4" height="55.7" fill="url(#sfw)" opacity="0.01"/><rect x="134.1" y="238.0" width="1.0" height="59.8" fill="url(#sfw)" opacity="0.02"/><rect x="85.8" y="245.0" width="1.0" height="54.8" fill="url(#sfw)" opacity="0.01"/><rect x="175.2" y="232.6" width="1.4" height="67.2" fill="url(#sfw)" opacity="0.02"/><rect x="108.8" y="240.0" width="1.6" height="52.0" fill="url(#sfw)" opacity="0.02"/><rect x="135.3" y="238.3" width="1.3" height="55.0" fill="url(#sfw)" opacity="0.02"/><rect x="162.3" y="236.6" width="1.1" height="45.1" fill="url(#sfw)" opacity="0.02"/><rect x="168.3" y="233.3" width="1.3" height="66.5" fill="url(#sfw)" opacity="0.02"/><rect x="163.7" y="245.0" width="1.6" height="43.7" fill="url(#sfw)" opacity="0.03"/><rect x="167.5" y="245.0" width="1.0" height="54.8" fill="url(#sfw)" opacity="0.02"/><rect x="93.0" y="300.0" width="0.8" height="49.6" fill="url(#sfw)" opacity="0.03"/><rect x="195.2" y="294.2" width="1.1" height="47.9" fill="url(#sfw)" opacity="0.07"/><rect x="105.6" y="302.2" width="1.4" height="36.7" fill="url(#sfw)" opacity="0.06"/><rect x="177.2" y="300.6" width="1.4" height="49.0" fill="url(#sfw)" opacity="0.06"/><rect x="126.1" y="298.7" width="1.5" height="45.8" fill="url(#sfw)" opacity="0.06"/><rect x="161.8" y="299.6" width="1.5" height="43.8" fill="url(#sfw)" opacity="0.05"/><rect x="190.8" y="304.4" width="1.1" height="42.6" fill="url(#sfw)" opacity="0.03"/><rect x="103.1" y="298.4" width="1.2" height="51.2" fill="url(#sfw)" opacity="0.06"/><rect x="149.5" y="295.3" width="1.7" height="54.3" fill="url(#sfw)" opacity="0.05"/><rect x="187.1" y="301.6" width="1.3" height="35.4" fill="url(#sfw)" opacity="0.03"/><rect x="131.9" y="295.4" width="1.6" height="46.2" fill="url(#sfw)" opacity="0.05"/><rect x="143.8" y="298.7" width="0.8" height="37.7" fill="url(#sfw)" opacity="0.04"/><rect x="136.3" y="295.1" width="1.5" height="38.9" fill="url(#sfw)" opacity="0.04"/><rect x="145.1" y="290.6" width="0.9" height="59.0" fill="url(#sfw)" opacity="0.02"/><rect x="190.8" y="303.3" width="0.9" height="46.3" fill="url(#sfw)" opacity="0.05"/><rect x="113.3" y="295.6" width="1.8" height="54.0" fill="url(#sfw)" opacity="0.03"/><rect x="167.1" y="302.9" width="1.2" height="35.6" fill="url(#sfw)" opacity="0.05"/><rect x="94.3" y="290.3" width="1.2" height="59.3" fill="url(#sfw)" opacity="0.03"/><rect x="125.0" y="300.8" width="1.7" height="48.8" fill="url(#sfw)" opacity="0.05"/><rect x="134.8" y="304.5" width="1.1" height="45.1" fill="url(#sfw)" opacity="0.07"/><rect x="164.1" y="300.7" width="1.2" height="44.5" fill="url(#sfw)" opacity="0.04"/><rect x="113.8" y="292.0" width="1.8" height="44.1" fill="url(#sfw)" opacity="0.04"/><rect x="189.1" y="297.3" width="1.4" height="49.7" fill="url(#sfw)" opacity="0.03"/><rect x="145.0" y="297.5" width="0.9" height="52.1" fill="url(#sfw)" opacity="0.05"/><rect x="132.5" y="301.6" width="1.4" height="48.0" fill="url(#sfw)" opacity="0.05"/><rect x="112.7" y="290.4" width="1.6" height="48.1" fill="url(#sfw)" opacity="0.02"/><rect x="88.8" y="294.7" width="1.5" height="51.9" fill="url(#sfw)" opacity="0.04"/><rect x="188.0" y="297.2" width="0.9" height="52.4" fill="url(#sfw)" opacity="0.07"/><rect x="158.5" y="297.4" width="1.7" height="38.3" fill="url(#sfw)" opacity="0.03"/><rect x="163.8" y="298.5" width="1.0" height="41.8" fill="url(#sfw)" opacity="0.03"/><rect x="92.9" y="301.7" width="1.0" height="33.1" fill="url(#sfw)" opacity="0.04"/><rect x="142.5" y="304.6" width="1.7" height="45.0" fill="url(#sfw)" opacity="0.06"/><rect x="173.7" y="294.0" width="1.6" height="55.6" fill="url(#sfw)" opacity="0.05"/><rect x="146.1" y="301.6" width="1.5" height="43.0" fill="url(#sfw)" opacity="0.06"/><rect x="111.5" y="299.6" width="1.4" height="37.4" fill="url(#sfw)" opacity="0.02"/><rect x="110.3" y="292.1" width="1.3" height="57.5" fill="url(#sfw)" opacity="0.05"/><rect x="117.4" y="295.8" width="1.1" height="53.8" fill="url(#sfw)" opacity="0.07"/><rect x="160.8" y="291.5" width="1.0" height="46.4" fill="url(#sfw)" opacity="0.05"/><rect x="122.6" y="304.5" width="1.7" height="44.6" fill="url(#sfw)" opacity="0.06"/><rect x="102.2" y="302.9" width="1.6" height="46.7" fill="url(#sfw)" opacity="0.06"/><rect x="88.9" y="293.7" width="1.2" height="55.9" fill="url(#sfw)" opacity="0.07"/><rect x="138.3" y="301.5" width="0.9" height="39.0" fill="url(#sfw)" opacity="0.06"/><rect x="158.1" y="298.5" width="1.5" height="35.9" fill="url(#sfw)" opacity="0.05"/><rect x="141.7" y="294.2" width="1.1" height="55.4" fill="url(#sfw)" opacity="0.06"/><rect x="104.0" y="294.6" width="1.7" height="55.0" fill="url(#sfw)" opacity="0.02"/><rect x="186.5" y="297.9" width="1.5" height="51.7" fill="url(#sfw)" opacity="0.02"/><rect x="135.3" y="302.2" width="0.9" height="37.4" fill="url(#sfw)" opacity="0.04"/><rect x="194.7" y="303.9" width="1.4" height="42.0" fill="url(#sfw)" opacity="0.02"/><rect x="192.9" y="296.6" width="1.4" height="53.0" fill="url(#sfw)" opacity="0.06"/><rect x="181.7" y="298.0" width="1.6" height="51.5" fill="url(#sfw)" opacity="0.03"/><rect x="117.5" y="263.4" width="1.2" height="86.2" fill="url(#sfk)" opacity="0.06"/><rect x="143.5" y="264.1" width="1.7" height="77.8" fill="url(#sfk)" opacity="0.07"/><rect x="114.8" y="279.1" width="1.3" height="70.5" fill="url(#sfk)" opacity="0.07"/><rect x="85.7" y="280.9" width="0.9" height="68.7" fill="url(#sfk)" opacity="0.06"/><rect x="94.7" y="271.6" width="1.3" height="64.3" fill="url(#sfk)" opacity="0.04"/><rect x="133.0" y="260.1" width="1.2" height="66.9" fill="url(#sfk)" opacity="0.08"/><rect x="105.9" y="271.4" width="0.9" height="67.1" fill="url(#sfk)" opacity="0.11"/><rect x="164.2" y="281.3" width="1.0" height="68.3" fill="url(#sfk)" opacity="0.10"/><rect x="86.3" y="269.5" width="1.6" height="68.5" fill="url(#sfk)" opacity="0.04"/><rect x="164.1" y="279.8" width="1.8" height="43.0" fill="url(#sfk)" opacity="0.07"/><rect x="118.5" y="279.6" width="1.1" height="60.1" fill="url(#sfk)" opacity="0.09"/><rect x="183.5" y="270.7" width="1.4" height="78.9" fill="url(#sfk)" opacity="0.06"/><rect x="116.5" y="279.8" width="1.5" height="69.8" fill="url(#sfk)" opacity="0.12"/><rect x="142.3" y="261.8" width="1.5" height="87.8" fill="url(#sfk)" opacity="0.09"/><rect x="182.2" y="272.3" width="1.1" height="77.3" fill="url(#sfk)" opacity="0.05"/><rect x="161.6" y="272.9" width="1.1" height="53.6" fill="url(#sfk)" opacity="0.07"/><rect x="193.9" y="269.3" width="1.8" height="80.3" fill="url(#sfk)" opacity="0.09"/><rect x="147.0" y="266.3" width="0.9" height="81.6" fill="url(#sfk)" opacity="0.06"/><rect x="130.9" y="269.4" width="1.7" height="80.2" fill="url(#sfk)" opacity="0.10"/><rect x="121.5" y="281.3" width="0.8" height="64.1" fill="url(#sfk)" opacity="0.11"/><rect x="122.7" y="263.1" width="1.5" height="77.2" fill="url(#sfk)" opacity="0.06"/><rect x="131.2" y="277.1" width="0.9" height="72.5" fill="url(#sfk)" opacity="0.11"/><rect x="168.3" y="271.2" width="1.7" height="54.1" fill="url(#sfk)" opacity="0.05"/><rect x="177.0" y="279.0" width="1.5" height="52.5" fill="url(#sfk)" opacity="0.04"/><rect x="101.0" y="264.7" width="1.6" height="84.9" fill="url(#sfk)" opacity="0.05"/><rect x="179.0" y="266.1" width="1.1" height="81.0" fill="url(#sfk)" opacity="0.06"/><rect x="180.2" y="264.8" width="1.7" height="84.8" fill="url(#sfk)" opacity="0.08"/><rect x="170.2" y="269.1" width="0.9" height="80.5" fill="url(#sfk)" opacity="0.08"/><rect x="122.0" y="262.4" width="1.6" height="87.2" fill="url(#sfk)" opacity="0.09"/><rect x="113.7" y="260.4" width="1.2" height="89.2" fill="url(#sfk)" opacity="0.08"/><rect x="131.0" y="274.0" width="0.8" height="73.4" fill="url(#sfk)" opacity="0.11"/><rect x="97.4" y="274.1" width="1.2" height="73.3" fill="url(#sfk)" opacity="0.05"/><rect x="119.7" y="276.8" width="0.8" height="63.4" fill="url(#sfk)" opacity="0.08"/><rect x="94.6" y="265.9" width="1.3" height="70.2" fill="url(#sfk)" opacity="0.11"/><rect x="150.6" y="277.4" width="1.2" height="63.2" fill="url(#sfk)" opacity="0.05"/><rect x="175.6" y="264.6" width="1.1" height="85.0" fill="url(#sfk)" opacity="0.05"/><rect x="90.6" y="270.3" width="1.6" height="79.3" fill="url(#sfk)" opacity="0.08"/><rect x="182.4" y="281.4" width="1.7" height="64.6" fill="url(#sfk)" opacity="0.04"/><rect x="108.6" y="271.3" width="1.0" height="78.3" fill="url(#sfk)" opacity="0.07"/><rect x="95.6" y="263.4" width="1.7" height="69.2" fill="url(#sfk)" opacity="0.04"/><rect x="148.2" y="210.9" width="1.5" height="18.9" fill="url(#sfw)" opacity="0.01"/><rect x="187.3" y="208.4" width="0.8" height="19.6" fill="url(#sfw)" opacity="0.01"/><rect x="109.7" y="208.2" width="1.5" height="21.6" fill="url(#sfw)" opacity="0.02"/><rect x="102.6" y="207.4" width="1.2" height="22.4" fill="url(#sfw)" opacity="0.02"/><rect x="131.0" y="209.5" width="1.8" height="20.3" fill="url(#sfw)" opacity="0.01"/><rect x="113.5" y="209.2" width="1.7" height="20.6" fill="url(#sfw)" opacity="0.01"/><rect x="117.0" y="208.9" width="1.3" height="20.9" fill="url(#sfw)" opacity="0.02"/><rect x="170.0" y="205.7" width="1.2" height="17.9" fill="url(#sfw)" opacity="0.01"/><rect x="179.9" y="209.3" width="1.7" height="20.5" fill="url(#sfw)" opacity="0.02"/><rect x="144.9" y="211.0" width="1.1" height="12.3" fill="url(#sfw)" opacity="0.01"/><rect x="97.9" y="210.6" width="1.8" height="13.8" fill="url(#sfw)" opacity="0.01"/><rect x="99.5" y="209.4" width="1.5" height="20.4" fill="url(#sfw)" opacity="0.01"/><rect x="166.3" y="207.6" width="1.1" height="22.2" fill="url(#sfw)" opacity="0.01"/><rect x="187.6" y="208.0" width="1.1" height="14.9" fill="url(#sfw)" opacity="0.01"/><rect x="176.5" y="206.2" width="1.0" height="20.6" fill="url(#sfw)" opacity="0.01"/><rect x="132.7" y="206.1" width="1.6" height="23.7" fill="url(#sfw)" opacity="0.01"/><rect x="190.1" y="208.1" width="1.6" height="16.5" fill="url(#sfw)" opacity="0.02"/><rect x="155.0" y="207.7" width="1.7" height="22.1" fill="url(#sfw)" opacity="0.01"/><rect x="120.5" y="207.9" width="1.5" height="17.5" fill="url(#sfw)" opacity="0.01"/><rect x="105.7" y="207.5" width="1.8" height="22.3" fill="url(#sfw)" opacity="0.01"/><rect x="69.3" y="218.1" width="0.9" height="41.7" fill="url(#sfw)" opacity="0.06"/><rect x="60.1" y="218.4" width="1.7" height="36.6" fill="url(#sfw)" opacity="0.06"/><rect x="55.0" y="213.6" width="1.1" height="46.2" fill="url(#sfw)" opacity="0.04"/><rect x="77.1" y="216.5" width="1.6" height="31.5" fill="url(#sfw)" opacity="0.06"/><rect x="48.1" y="219.5" width="1.5" height="33.7" fill="url(#sfw)" opacity="0.03"/><rect x="74.7" y="210.1" width="0.9" height="49.7" fill="url(#sfw)" opacity="0.03"/><rect x="81.8" y="219.2" width="1.1" height="40.6" fill="url(#sfw)" opacity="0.05"/><rect x="62.3" y="208.1" width="0.9" height="42.9" fill="url(#sfw)" opacity="0.03"/><rect x="80.0" y="212.7" width="1.2" height="39.0" fill="url(#sfw)" opacity="0.04"/><rect x="65.2" y="216.7" width="1.2" height="33.9" fill="url(#sfw)" opacity="0.04"/><rect x="59.8" y="207.8" width="0.8" height="40.4" fill="url(#sfw)" opacity="0.05"/><rect x="63.2" y="209.7" width="1.1" height="50.1" fill="url(#sfw)" opacity="0.05"/><rect x="47.4" y="275.9" width="1.6" height="73.7" fill="url(#sfw)" opacity="0.02"/><rect x="56.8" y="261.9" width="0.9" height="64.5" fill="url(#sfw)" opacity="0.03"/><rect x="63.6" y="269.0" width="1.2" height="80.6" fill="url(#sfw)" opacity="0.03"/><rect x="79.5" y="267.2" width="1.4" height="82.4" fill="url(#sfw)" opacity="0.02"/><rect x="49.9" y="267.1" width="1.3" height="82.5" fill="url(#sfw)" opacity="0.03"/><rect x="57.5" y="277.9" width="1.1" height="71.7" fill="url(#sfw)" opacity="0.02"/><rect x="49.9" y="263.6" width="1.5" height="74.5" fill="url(#sfw)" opacity="0.02"/><rect x="52.7" y="280.0" width="1.5" height="69.6" fill="url(#sfw)" opacity="0.02"/><rect x="57.3" y="260.7" width="1.7" height="88.9" fill="url(#sfw)" opacity="0.03"/><rect x="81.0" y="278.9" width="1.4" height="70.7" fill="url(#sfw)" opacity="0.01"/><rect x="48.6" y="226.4" width="1.6" height="103.3" fill="url(#sfk)" opacity="0.04"/><rect x="76.6" y="226.1" width="1.3" height="123.5" fill="url(#sfk)" opacity="0.11"/><rect x="52.8" y="218.7" width="1.6" height="117.2" fill="url(#sfk)" opacity="0.08"/><rect x="77.3" y="224.1" width="1.1" height="125.5" fill="url(#sfk)" opacity="0.06"/><rect x="76.0" y="206.9" width="1.5" height="142.7" fill="url(#sfk)" opacity="0.07"/><rect x="63.2" y="228.6" width="1.4" height="121.0" fill="url(#sfk)" opacity="0.06"/><rect x="81.2" y="235.0" width="1.7" height="112.4" fill="url(#sfk)" opacity="0.12"/><rect x="85.2" y="235.4" width="1.6" height="114.2" fill="url(#sfk)" opacity="0.11"/><rect x="54.8" y="212.0" width="1.3" height="137.6" fill="url(#sfk)" opacity="0.09"/><rect x="56.3" y="215.9" width="1.6" height="133.7" fill="url(#sfk)" opacity="0.08"/><rect x="77.7" y="237.3" width="1.7" height="88.0" fill="url(#sfk)" opacity="0.04"/><rect x="70.7" y="220.9" width="0.9" height="109.3" fill="url(#sfk)" opacity="0.04"/><rect x="54.6" y="206.7" width="1.7" height="142.9" fill="url(#sfk)" opacity="0.09"/><rect x="62.0" y="220.4" width="1.2" height="118.9" fill="url(#sfk)" opacity="0.11"/><rect x="64.9" y="230.0" width="1.4" height="119.6" fill="url(#sfk)" opacity="0.07"/><rect x="47.00" y="228.70" width="148.30" height="2.80" fill="#333333" opacity="0.85" filter="url(#b05)"/><rect x="47.00" y="306.00" width="27.00" height="16.00" fill="#adadad" filter="url(#b15)"/><ellipse cx="48.00" cy="314.00" rx="1.30" ry="6.00" fill="#d6d6d6" opacity="0.9" filter="url(#b1)"/><ellipse cx="56.50" cy="314.00" rx="1.30" ry="6.00" fill="#d6d6d6" opacity="0.9" filter="url(#b1)"/><ellipse cx="62.00" cy="314.00" rx="1.30" ry="6.00" fill="#d6d6d6" opacity="0.9" filter="url(#b1)"/><ellipse cx="67.00" cy="314.00" rx="1.30" ry="6.00" fill="#d6d6d6" opacity="0.9" filter="url(#b1)"/><ellipse cx="71.50" cy="314.00" rx="1.30" ry="6.00" fill="#d6d6d6" opacity="0.9" filter="url(#b1)"/><ellipse cx="113.50" cy="264.80" rx="1.00" ry="7.00" fill="#363636" filter="url(#b15)"/><ellipse cx="81.50" cy="310.80" rx="2.80" ry="6.00" fill="#b2b2b2" filter="url(#b15)"/><ellipse cx="50.50" cy="293.80" rx="3.00" ry="6.50" fill="#9c9c9c" filter="url(#b15)"/><ellipse cx="56.00" cy="293.80" rx="1.50" ry="5.00" fill="#8c8c8c" filter="url(#b15)"/><ellipse cx="65.00" cy="292.80" rx="4.20" ry="7.50" fill="#a1a1a1" filter="url(#b15)"/><ellipse cx="71.00" cy="293.80" rx="2.00" ry="6.50" fill="#919191" filter="url(#b15)"/><ellipse cx="76.50" cy="294.80" rx="2.00" ry="5.50" fill="#404040" filter="url(#b15)"/><ellipse cx="77.00" cy="311.80" rx="1.60" ry="6.00" fill="#6b6b6b" filter="url(#b15)"/><rect x="53.00" y="322.80" width="1.50" height="27.00" fill="url(#fg3)" opacity="0.7" filter="url(#b05)"/><rect x="60.00" y="322.80" width="1.50" height="27.00" fill="url(#fg4)" opacity="0.6" filter="url(#b05)"/><rect x="63.00" y="322.80" width="1.50" height="27.00" fill="url(#fg5)" opacity="0.7" filter="url(#b05)"/><rect x="69.00" y="322.80" width="1.50" height="27.00" fill="url(#fg3)" opacity="0.6" filter="url(#b05)"/><rect x="72.00" y="322.80" width="1.50" height="27.00" fill="url(#fg6)" opacity="0.7" filter="url(#b05)"/><rect x="71.30" y="209.80" width="1.30" height="50.00" fill="#4c4c4c" opacity="0.7" filter="url(#b05)"/><rect x="61.50" y="211.80" width="1.30" height="43.00" fill="#3d3d3d" opacity="0.6" filter="url(#b05)"/><rect x="65.50" y="211.80" width="1.30" height="43.00" fill="#3d3d3d" opacity="0.6" filter="url(#b05)"/><rect x="77.50" y="214.80" width="1.30" height="40.00" fill="#383838" opacity="0.5" filter="url(#b05)"/><rect x="146.00" y="317.80" width="1.50" height="32.00" fill="url(#fg7)" opacity="0.6" filter="url(#b05)"/><rect x="155.00" y="317.80" width="1.50" height="32.00" fill="url(#fg7)" opacity="0.6" filter="url(#b05)"/><rect x="178.00" y="317.80" width="1.50" height="32.00" fill="url(#fg7)" opacity="0.6" filter="url(#b05)"/><rect x="125.00" y="317.80" width="1.50" height="32.00" fill="url(#fg8)" opacity="0.5" filter="url(#b05)"/><rect x="170.00" y="317.80" width="1.50" height="32.00" fill="url(#fg8)" opacity="0.5" filter="url(#b05)"/></g></g><rect x="198.0" y="200.0" width="11.60" height="150.50" fill="url(#cbg)" filter="url(#jetc)"/><g clip-path="url(#clipc)"><g filter="url(#jet)"><rect x="43.00" y="372.10" width="156.20" height="158.30" fill="url(#g11)"/><rect x="43.00" y="372.10" width="42.00" height="158.30" fill="url(#g12)"/><rect x="147.6" y="415.0" width="1.5" height="44.4" fill="url(#sfw)" opacity="0.02"/><rect x="172.3" y="417.4" width="1.2" height="58.7" fill="url(#sfw)" opacity="0.02"/><rect x="134.4" y="416.8" width="0.8" height="52.8" fill="url(#sfw)" opacity="0.02"/><rect x="147.8" y="414.8" width="1.6" height="61.3" fill="url(#sfw)" opacity="0.02"/><rect x="156.4" y="408.6" width="1.3" height="52.0" fill="url(#sfw)" opacity="0.02"/><rect x="162.0" y="414.6" width="1.8" height="47.3" fill="url(#sfw)" opacity="0.01"/><rect x="92.7" y="407.7" width="1.6" height="68.4" fill="url(#sfw)" opacity="0.03"/><rect x="108.2" y="414.0" width="1.6" height="54.3" fill="url(#sfw)" opacity="0.01"/><rect x="188.7" y="421.9" width="0.8" height="54.2" fill="url(#sfw)" opacity="0.03"/><rect x="97.1" y="411.7" width="1.1" height="49.0" fill="url(#sfw)" opacity="0.02"/><rect x="91.7" y="414.3" width="1.0" height="61.8" fill="url(#sfw)" opacity="0.02"/><rect x="136.3" y="413.9" width="1.6" height="62.2" fill="url(#sfw)" opacity="0.02"/><rect x="115.6" y="421.3" width="1.7" height="54.8" fill="url(#sfw)" opacity="0.02"/><rect x="168.1" y="408.9" width="1.4" height="67.2" fill="url(#sfw)" opacity="0.03"/><rect x="116.3" y="411.2" width="1.0" height="56.3" fill="url(#sfw)" opacity="0.02"/><rect x="103.8" y="421.1" width="1.4" height="52.8" fill="url(#sfw)" opacity="0.01"/><rect x="108.9" y="420.9" width="1.6" height="55.2" fill="url(#sfw)" opacity="0.02"/><rect x="156.0" y="412.5" width="0.8" height="45.1" fill="url(#sfw)" opacity="0.03"/><rect x="174.5" y="423.4" width="1.0" height="52.7" fill="url(#sfw)" opacity="0.01"/><rect x="131.0" y="423.7" width="1.2" height="34.4" fill="url(#sfw)" opacity="0.02"/><rect x="144.6" y="408.0" width="1.7" height="68.1" fill="url(#sfw)" opacity="0.03"/><rect x="167.5" y="416.1" width="1.4" height="41.1" fill="url(#sfw)" opacity="0.02"/><rect x="112.5" y="418.3" width="1.4" height="57.8" fill="url(#sfw)" opacity="0.02"/><rect x="160.1" y="415.5" width="1.1" height="60.6" fill="url(#sfw)" opacity="0.03"/><rect x="125.9" y="422.3" width="1.7" height="53.8" fill="url(#sfw)" opacity="0.01"/><rect x="100.1" y="413.8" width="1.5" height="41.9" fill="url(#sfw)" opacity="0.03"/><rect x="194.3" y="421.4" width="1.3" height="54.7" fill="url(#sfw)" opacity="0.01"/><rect x="124.6" y="414.0" width="1.7" height="62.1" fill="url(#sfw)" opacity="0.02"/><rect x="138.5" y="412.3" width="1.7" height="54.8" fill="url(#sfw)" opacity="0.02"/><rect x="187.4" y="415.8" width="1.5" height="60.3" fill="url(#sfw)" opacity="0.02"/><rect x="178.0" y="474.1" width="1.8" height="52.3" fill="url(#sfw)" opacity="0.02"/><rect x="186.4" y="473.8" width="0.8" height="43.9" fill="url(#sfw)" opacity="0.02"/><rect x="139.3" y="469.5" width="1.4" height="56.9" fill="url(#sfw)" opacity="0.05"/><rect x="157.7" y="467.0" width="1.3" height="57.7" fill="url(#sfw)" opacity="0.07"/><rect x="157.3" y="479.4" width="1.0" height="47.0" fill="url(#sfw)" opacity="0.04"/><rect x="153.9" y="471.3" width="1.0" height="55.1" fill="url(#sfw)" opacity="0.07"/><rect x="125.4" y="469.8" width="1.6" height="47.1" fill="url(#sfw)" opacity="0.06"/><rect x="170.5" y="472.4" width="1.0" height="52.1" fill="url(#sfw)" opacity="0.04"/><rect x="164.0" y="475.6" width="1.4" height="50.8" fill="url(#sfw)" opacity="0.04"/><rect x="123.3" y="477.0" width="1.1" height="49.4" fill="url(#sfw)" opacity="0.05"/><rect x="103.8" y="480.0" width="1.5" height="43.9" fill="url(#sfw)" opacity="0.05"/><rect x="100.7" y="468.0" width="1.0" height="58.4" fill="url(#sfw)" opacity="0.03"/><rect x="145.3" y="478.0" width="1.6" height="48.4" fill="url(#sfw)" opacity="0.03"/><rect x="151.4" y="473.2" width="1.7" height="53.2" fill="url(#sfw)" opacity="0.07"/><rect x="156.9" y="476.4" width="0.8" height="50.0" fill="url(#sfw)" opacity="0.07"/><rect x="137.1" y="476.1" width="1.2" height="50.3" fill="url(#sfw)" opacity="0.03"/><rect x="173.1" y="475.7" width="1.2" height="50.7" fill="url(#sfw)" opacity="0.03"/><rect x="157.6" y="470.0" width="0.9" height="56.4" fill="url(#sfw)" opacity="0.04"/><rect x="146.6" y="478.5" width="1.7" height="43.5" fill="url(#sfw)" opacity="0.03"/><rect x="180.7" y="469.5" width="1.3" height="54.4" fill="url(#sfw)" opacity="0.03"/><rect x="118.3" y="469.7" width="1.0" height="56.7" fill="url(#sfw)" opacity="0.04"/><rect x="132.7" y="477.4" width="1.1" height="49.0" fill="url(#sfw)" opacity="0.04"/><rect x="128.0" y="474.0" width="1.8" height="45.2" fill="url(#sfw)" opacity="0.02"/><rect x="141.7" y="476.9" width="1.3" height="47.9" fill="url(#sfw)" opacity="0.04"/><rect x="160.0" y="473.1" width="1.2" height="51.7" fill="url(#sfw)" opacity="0.07"/><rect x="151.7" y="477.0" width="1.6" height="49.4" fill="url(#sfw)" opacity="0.06"/><rect x="127.2" y="469.7" width="1.0" height="55.2" fill="url(#sfw)" opacity="0.04"/><rect x="145.7" y="475.3" width="1.0" height="45.2" fill="url(#sfw)" opacity="0.06"/><rect x="145.3" y="473.9" width="1.2" height="50.8" fill="url(#sfw)" opacity="0.03"/><rect x="193.2" y="466.6" width="1.3" height="54.2" fill="url(#sfw)" opacity="0.07"/><rect x="143.5" y="479.7" width="1.5" height="46.7" fill="url(#sfw)" opacity="0.03"/><rect x="191.3" y="466.4" width="0.8" height="50.5" fill="url(#sfw)" opacity="0.05"/><rect x="123.5" y="476.0" width="1.5" height="42.7" fill="url(#sfw)" opacity="0.03"/><rect x="184.3" y="468.6" width="1.0" height="57.8" fill="url(#sfw)" opacity="0.07"/><rect x="130.0" y="473.9" width="1.1" height="52.5" fill="url(#sfw)" opacity="0.05"/><rect x="92.3" y="469.2" width="1.6" height="52.2" fill="url(#sfw)" opacity="0.02"/><rect x="148.1" y="481.1" width="1.2" height="45.3" fill="url(#sfw)" opacity="0.07"/><rect x="106.2" y="478.2" width="1.2" height="48.2" fill="url(#sfw)" opacity="0.04"/><rect x="183.4" y="466.6" width="1.5" height="51.8" fill="url(#sfw)" opacity="0.03"/><rect x="136.6" y="471.8" width="1.6" height="54.6" fill="url(#sfw)" opacity="0.04"/><rect x="100.8" y="477.3" width="1.3" height="38.8" fill="url(#sfw)" opacity="0.05"/><rect x="176.4" y="478.5" width="1.8" height="47.9" fill="url(#sfw)" opacity="0.06"/><rect x="128.3" y="480.3" width="1.4" height="29.8" fill="url(#sfw)" opacity="0.07"/><rect x="125.3" y="471.4" width="1.2" height="55.0" fill="url(#sfw)" opacity="0.06"/><rect x="119.5" y="466.4" width="1.0" height="60.0" fill="url(#sfw)" opacity="0.07"/><rect x="133.0" y="471.5" width="1.6" height="54.9" fill="url(#sfw)" opacity="0.03"/><rect x="147.1" y="467.8" width="1.1" height="55.1" fill="url(#sfw)" opacity="0.02"/><rect x="141.1" y="479.6" width="1.1" height="46.1" fill="url(#sfw)" opacity="0.03"/><rect x="145.6" y="466.8" width="1.7" height="59.6" fill="url(#sfw)" opacity="0.04"/><rect x="129.6" y="466.4" width="1.6" height="60.0" fill="url(#sfw)" opacity="0.03"/><rect x="104.6" y="447.9" width="1.3" height="78.5" fill="url(#sfk)" opacity="0.07"/><rect x="153.1" y="453.3" width="1.5" height="73.1" fill="url(#sfk)" opacity="0.05"/><rect x="187.5" y="445.3" width="1.0" height="57.7" fill="url(#sfk)" opacity="0.05"/><rect x="132.9" y="458.4" width="1.3" height="68.0" fill="url(#sfk)" opacity="0.09"/><rect x="86.5" y="457.7" width="1.6" height="48.0" fill="url(#sfk)" opacity="0.06"/><rect x="100.4" y="452.8" width="1.0" height="56.1" fill="url(#sfk)" opacity="0.11"/><rect x="103.5" y="438.2" width="1.4" height="88.2" fill="url(#sfk)" opacity="0.09"/><rect x="157.4" y="449.6" width="1.0" height="76.8" fill="url(#sfk)" opacity="0.06"/><rect x="191.0" y="442.2" width="1.2" height="84.2" fill="url(#sfk)" opacity="0.05"/><rect x="106.6" y="439.5" width="1.3" height="70.9" fill="url(#sfk)" opacity="0.07"/><rect x="163.0" y="439.5" width="1.6" height="86.9" fill="url(#sfk)" opacity="0.04"/><rect x="101.2" y="439.1" width="1.2" height="87.3" fill="url(#sfk)" opacity="0.12"/><rect x="135.1" y="442.0" width="1.4" height="84.4" fill="url(#sfk)" opacity="0.09"/><rect x="114.7" y="457.0" width="1.1" height="69.4" fill="url(#sfk)" opacity="0.11"/><rect x="162.8" y="450.2" width="1.6" height="76.2" fill="url(#sfk)" opacity="0.06"/><rect x="111.3" y="445.6" width="1.0" height="63.4" fill="url(#sfk)" opacity="0.08"/><rect x="150.2" y="452.5" width="1.2" height="71.7" fill="url(#sfk)" opacity="0.08"/><rect x="86.9" y="445.3" width="1.5" height="81.1" fill="url(#sfk)" opacity="0.10"/><rect x="93.2" y="444.8" width="1.4" height="58.9" fill="url(#sfk)" opacity="0.05"/><rect x="163.8" y="454.5" width="1.7" height="60.0" fill="url(#sfk)" opacity="0.11"/><rect x="136.9" y="455.4" width="1.2" height="71.0" fill="url(#sfk)" opacity="0.12"/><rect x="112.5" y="447.1" width="1.2" height="58.1" fill="url(#sfk)" opacity="0.10"/><rect x="150.9" y="449.2" width="1.3" height="77.2" fill="url(#sfk)" opacity="0.08"/><rect x="96.9" y="443.5" width="1.5" height="72.7" fill="url(#sfk)" opacity="0.11"/><rect x="123.6" y="448.0" width="1.1" height="52.9" fill="url(#sfk)" opacity="0.11"/><rect x="159.4" y="441.1" width="1.1" height="85.3" fill="url(#sfk)" opacity="0.05"/><rect x="94.9" y="446.0" width="1.5" height="80.4" fill="url(#sfk)" opacity="0.07"/><rect x="161.9" y="454.6" width="0.9" height="59.2" fill="url(#sfk)" opacity="0.10"/><rect x="188.9" y="448.0" width="1.3" height="71.6" fill="url(#sfk)" opacity="0.09"/><rect x="103.1" y="447.8" width="0.9" height="78.6" fill="url(#sfk)" opacity="0.09"/><rect x="102.4" y="445.4" width="1.0" height="65.6" fill="url(#sfk)" opacity="0.11"/><rect x="160.8" y="456.0" width="1.5" height="62.7" fill="url(#sfk)" opacity="0.10"/><rect x="167.4" y="456.6" width="1.4" height="69.8" fill="url(#sfk)" opacity="0.08"/><rect x="135.7" y="451.5" width="1.6" height="74.9" fill="url(#sfk)" opacity="0.11"/><rect x="186.0" y="436.6" width="1.5" height="89.8" fill="url(#sfk)" opacity="0.06"/><rect x="94.3" y="456.9" width="1.5" height="69.5" fill="url(#sfk)" opacity="0.12"/><rect x="122.0" y="455.2" width="1.3" height="66.3" fill="url(#sfk)" opacity="0.12"/><rect x="183.4" y="448.5" width="1.5" height="54.1" fill="url(#sfk)" opacity="0.10"/><rect x="182.0" y="457.2" width="0.8" height="47.2" fill="url(#sfk)" opacity="0.05"/><rect x="184.6" y="456.6" width="1.5" height="69.8" fill="url(#sfk)" opacity="0.10"/><rect x="128.2" y="381.2" width="1.4" height="19.4" fill="url(#sfw)" opacity="0.01"/><rect x="128.2" y="381.1" width="1.0" height="25.0" fill="url(#sfw)" opacity="0.02"/><rect x="167.6" y="386.3" width="1.2" height="19.8" fill="url(#sfw)" opacity="0.01"/><rect x="87.0" y="382.9" width="1.1" height="23.2" fill="url(#sfw)" opacity="0.01"/><rect x="125.8" y="386.3" width="1.8" height="19.1" fill="url(#sfw)" opacity="0.02"/><rect x="146.5" y="384.8" width="1.3" height="21.3" fill="url(#sfw)" opacity="0.01"/><rect x="153.4" y="385.6" width="1.7" height="13.1" fill="url(#sfw)" opacity="0.01"/><rect x="163.9" y="383.8" width="0.9" height="18.7" fill="url(#sfw)" opacity="0.02"/><rect x="167.7" y="381.2" width="1.1" height="23.5" fill="url(#sfw)" opacity="0.01"/><rect x="132.2" y="384.7" width="1.3" height="15.8" fill="url(#sfw)" opacity="0.01"/><rect x="91.8" y="387.3" width="1.6" height="18.8" fill="url(#sfw)" opacity="0.01"/><rect x="177.6" y="386.0" width="1.3" height="19.7" fill="url(#sfw)" opacity="0.02"/><rect x="165.1" y="384.7" width="1.6" height="15.4" fill="url(#sfw)" opacity="0.01"/><rect x="87.7" y="381.8" width="1.2" height="24.3" fill="url(#sfw)" opacity="0.01"/><rect x="98.3" y="387.2" width="1.1" height="18.9" fill="url(#sfw)" opacity="0.02"/><rect x="120.2" y="383.7" width="1.1" height="22.4" fill="url(#sfw)" opacity="0.01"/><rect x="171.3" y="386.4" width="1.5" height="19.7" fill="url(#sfw)" opacity="0.01"/><rect x="129.1" y="382.8" width="1.0" height="16.4" fill="url(#sfw)" opacity="0.01"/><rect x="178.3" y="383.3" width="0.8" height="15.5" fill="url(#sfw)" opacity="0.02"/><rect x="85.0" y="387.3" width="1.5" height="18.8" fill="url(#sfw)" opacity="0.01"/><rect x="64.4" y="396.9" width="1.5" height="39.2" fill="url(#sfw)" opacity="0.05"/><rect x="66.5" y="384.4" width="1.2" height="38.5" fill="url(#sfw)" opacity="0.05"/><rect x="57.3" y="389.0" width="1.4" height="37.3" fill="url(#sfw)" opacity="0.03"/><rect x="53.5" y="387.3" width="1.7" height="48.8" fill="url(#sfw)" opacity="0.04"/><rect x="58.0" y="393.6" width="1.1" height="32.3" fill="url(#sfw)" opacity="0.04"/><rect x="47.6" y="392.2" width="1.1" height="30.9" fill="url(#sfw)" opacity="0.03"/><rect x="50.1" y="391.0" width="1.1" height="42.3" fill="url(#sfw)" opacity="0.03"/><rect x="79.9" y="386.4" width="1.2" height="34.3" fill="url(#sfw)" opacity="0.02"/><rect x="83.1" y="396.0" width="1.3" height="40.1" fill="url(#sfw)" opacity="0.02"/><rect x="74.1" y="386.2" width="1.7" height="46.4" fill="url(#sfw)" opacity="0.04"/><rect x="58.4" y="393.7" width="1.1" height="42.4" fill="url(#sfw)" opacity="0.04"/><rect x="67.3" y="390.1" width="1.7" height="32.9" fill="url(#sfw)" opacity="0.04"/><rect x="76.8" y="449.1" width="1.7" height="53.7" fill="url(#sfw)" opacity="0.03"/><rect x="70.1" y="447.8" width="1.8" height="78.6" fill="url(#sfw)" opacity="0.01"/><rect x="70.8" y="452.3" width="1.6" height="51.0" fill="url(#sfw)" opacity="0.01"/><rect x="59.0" y="441.4" width="1.2" height="79.8" fill="url(#sfw)" opacity="0.01"/><rect x="65.5" y="450.6" width="1.3" height="59.9" fill="url(#sfw)" opacity="0.02"/><rect x="63.4" y="453.9" width="1.6" height="57.0" fill="url(#sfw)" opacity="0.02"/><rect x="58.4" y="458.6" width="1.5" height="44.5" fill="url(#sfw)" opacity="0.02"/><rect x="50.6" y="446.7" width="1.3" height="73.0" fill="url(#sfw)" opacity="0.03"/><rect x="76.0" y="446.4" width="1.1" height="60.4" fill="url(#sfw)" opacity="0.01"/><rect x="71.6" y="443.8" width="1.2" height="59.7" fill="url(#sfw)" opacity="0.02"/><rect x="82.2" y="381.2" width="1.0" height="145.2" fill="url(#sfk)" opacity="0.08"/><rect x="83.6" y="399.9" width="1.0" height="123.0" fill="url(#sfk)" opacity="0.08"/><rect x="52.5" y="393.6" width="1.0" height="132.8" fill="url(#sfk)" opacity="0.10"/><rect x="48.1" y="390.1" width="1.1" height="136.3" fill="url(#sfk)" opacity="0.11"/><rect x="68.5" y="399.5" width="1.3" height="126.9" fill="url(#sfk)" opacity="0.11"/><rect x="74.5" y="406.7" width="1.6" height="119.7" fill="url(#sfk)" opacity="0.05"/><rect x="58.5" y="391.3" width="1.7" height="126.5" fill="url(#sfk)" opacity="0.09"/><rect x="59.6" y="395.8" width="0.9" height="130.6" fill="url(#sfk)" opacity="0.08"/><rect x="66.7" y="398.8" width="1.1" height="93.7" fill="url(#sfk)" opacity="0.08"/><rect x="71.0" y="405.7" width="0.8" height="120.7" fill="url(#sfk)" opacity="0.05"/><rect x="74.8" y="383.7" width="1.1" height="142.7" fill="url(#sfk)" opacity="0.09"/><rect x="69.0" y="412.8" width="1.2" height="83.6" fill="url(#sfk)" opacity="0.12"/><rect x="70.1" y="394.2" width="1.0" height="90.3" fill="url(#sfk)" opacity="0.09"/><rect x="82.3" y="415.8" width="1.0" height="110.6" fill="url(#sfk)" opacity="0.05"/><rect x="84.9" y="385.5" width="1.6" height="140.0" fill="url(#sfk)" opacity="0.07"/><rect x="47.00" y="395.15" width="148.20" height="1.50" fill="#2b2b2b" opacity="0.85" filter="url(#b05)"/><rect x="47.00" y="406.35" width="148.20" height="1.50" fill="#1c1c1c" opacity="0.6" filter="url(#b05)"/><rect x="47.00" y="487.10" width="27.00" height="11.00" fill="#8f8f8f" filter="url(#b15)"/><ellipse cx="48.50" cy="492.60" rx="1.30" ry="3.50" fill="#b8b8b8" opacity="0.9" filter="url(#b1)"/><ellipse cx="57.00" cy="492.60" rx="1.30" ry="3.50" fill="#b8b8b8" opacity="0.9" filter="url(#b1)"/><ellipse cx="63.50" cy="492.60" rx="1.30" ry="3.50" fill="#b8b8b8" opacity="0.9" filter="url(#b1)"/><ellipse cx="68.50" cy="492.60" rx="1.30" ry="3.50" fill="#b8b8b8" opacity="0.9" filter="url(#b1)"/><ellipse cx="72.00" cy="492.60" rx="1.30" ry="3.50" fill="#b8b8b8" opacity="0.9" filter="url(#b1)"/><ellipse cx="113.80" cy="449.70" rx="1.10" ry="10.00" fill="#4a4a4a" filter="url(#b15)"/><ellipse cx="65.00" cy="468.10" rx="3.00" ry="6.00" fill="#b0b0b0" filter="url(#b15)"/><ellipse cx="81.00" cy="492.10" rx="1.50" ry="4.50" fill="#999999" filter="url(#b15)"/><ellipse cx="50.00" cy="460.10" rx="2.00" ry="5.00" fill="#a3a3a3" filter="url(#b15)"/><ellipse cx="58.00" cy="461.10" rx="3.00" ry="6.00" fill="#a1a1a1" filter="url(#b15)"/><rect x="78.00" y="452.10" width="1.50" height="24.00" fill="url(#fg4)" opacity="0.6" filter="url(#b05)"/><rect x="82.00" y="452.10" width="1.50" height="24.00" fill="url(#fg6)" opacity="0.6" filter="url(#b05)"/><rect x="66.50" y="384.10" width="1.30" height="42.00" fill="#333333" opacity="0.6" filter="url(#b05)"/><rect x="71.00" y="384.10" width="1.30" height="42.00" fill="#383838" opacity="0.6" filter="url(#b05)"/><rect x="147.00" y="494.10" width="1.50" height="32.00" fill="url(#fg13)" opacity="0.6" filter="url(#b05)"/><rect x="160.00" y="494.10" width="1.50" height="32.00" fill="url(#fg13)" opacity="0.6" filter="url(#b05)"/><rect x="178.00" y="494.10" width="1.50" height="32.00" fill="url(#fg13)" opacity="0.6" filter="url(#b05)"/></g></g><rect x="198.0" y="376.1" width="11.60" height="150.30" fill="url(#cbg)" filter="url(#jetc)"/><g clip-path="url(#clipd)"><g filter="url(#jet)"><rect x="272.00" y="20.40" width="157.20" height="158.70" fill="url(#g14)"/><rect x="272.00" y="20.40" width="29.50" height="158.70" fill="url(#g15)"/><rect x="345.6" y="51.2" width="1.6" height="123.9" fill="#505050" opacity="0.25"/><rect x="318.1" y="36.2" width="1.8" height="138.9" fill="#4d4d4d" opacity="0.18"/><rect x="408.4" y="41.0" width="1.2" height="132.5" fill="#5a5a5a" opacity="0.29"/><rect x="361.9" y="63.1" width="1.8" height="84.6" fill="#606060" opacity="0.23"/><rect x="384.5" y="39.0" width="1.2" height="134.1" fill="#505050" opacity="0.27"/><rect x="356.8" y="46.8" width="1.1" height="128.3" fill="#4e4e4e" opacity="0.34"/><rect x="381.9" y="62.3" width="1.0" height="112.8" fill="#666666" opacity="0.22"/><rect x="358.7" y="58.3" width="1.7" height="102.2" fill="#585858" opacity="0.11"/><rect x="406.4" y="58.6" width="1.4" height="89.7" fill="#666666" opacity="0.15"/><rect x="355.7" y="30.5" width="1.6" height="106.5" fill="#636363" opacity="0.26"/><rect x="315.0" y="62.9" width="0.9" height="97.5" fill="#505050" opacity="0.17"/><rect x="388.9" y="57.0" width="1.1" height="107.4" fill="#565656" opacity="0.22"/><rect x="363.5" y="38.6" width="1.7" height="136.5" fill="#616161" opacity="0.18"/><rect x="357.9" y="60.6" width="1.8" height="114.5" fill="#5b5b5b" opacity="0.18"/><rect x="421.1" y="45.6" width="1.1" height="129.5" fill="#5e5e5e" opacity="0.15"/><rect x="391.1" y="49.4" width="1.5" height="106.5" fill="#575757" opacity="0.12"/><rect x="403.1" y="50.8" width="1.6" height="105.5" fill="#545454" opacity="0.26"/><rect x="392.9" y="40.1" width="1.2" height="135.0" fill="#6a6a6a" opacity="0.28"/><rect x="309.7" y="36.5" width="1.5" height="138.6" fill="#636363" opacity="0.29"/><rect x="355.4" y="44.1" width="1.2" height="90.6" fill="#555555" opacity="0.16"/><rect x="382.7" y="47.8" width="1.3" height="127.3" fill="#626262" opacity="0.27"/><rect x="420.9" y="38.3" width="1.0" height="112.4" fill="#4d4d4d" opacity="0.21"/><rect x="331.3" y="51.2" width="1.4" height="123.9" fill="#686868" opacity="0.16"/><rect x="316.9" y="46.5" width="1.7" height="128.6" fill="#666666" opacity="0.23"/><rect x="350.1" y="54.5" width="1.7" height="120.6" fill="#595959" opacity="0.11"/><rect x="317.1" y="59.5" width="0.9" height="115.6" fill="#5b5b5b" opacity="0.17"/><rect x="412.9" y="60.6" width="1.3" height="114.5" fill="#646464" opacity="0.29"/><rect x="359.2" y="55.1" width="1.1" height="91.3" fill="#646464" opacity="0.29"/><rect x="376.2" y="53.3" width="0.9" height="121.8" fill="#575757" opacity="0.13"/><rect x="413.6" y="54.8" width="1.5" height="120.3" fill="#616161" opacity="0.14"/><rect x="381.1" y="42.2" width="1.1" height="132.9" fill="#515151" opacity="0.27"/><rect x="341.8" y="31.4" width="0.8" height="143.7" fill="#606060" opacity="0.14"/><rect x="376.8" y="62.7" width="1.7" height="112.4" fill="#585858" opacity="0.16"/><rect x="404.7" y="60.2" width="1.8" height="81.0" fill="#4f4f4f" opacity="0.17"/><rect x="329.5" y="54.1" width="1.3" height="121.0" fill="#5b5b5b" opacity="0.11"/><rect x="371.4" y="28.2" width="1.5" height="145.5" fill="#666666" opacity="0.23"/><rect x="376.2" y="42.1" width="0.9" height="133.0" fill="#525252" opacity="0.27"/><rect x="364.3" y="52.7" width="1.7" height="113.2" fill="#5f5f5f" opacity="0.18"/><rect x="383.0" y="56.1" width="1.0" height="119.0" fill="#505050" opacity="0.26"/><rect x="389.4" y="35.2" width="1.0" height="100.9" fill="#575757" opacity="0.26"/><rect x="327.9" y="32.9" width="1.1" height="115.2" fill="#5d5d5d" opacity="0.13"/><rect x="419.1" y="62.5" width="1.1" height="98.7" fill="#545454" opacity="0.16"/><rect x="398.6" y="37.4" width="1.5" height="121.5" fill="#4f4f4f" opacity="0.11"/><rect x="417.6" y="36.9" width="1.5" height="116.1" fill="#5a5a5a" opacity="0.11"/><rect x="408.8" y="34.5" width="1.4" height="140.6" fill="#585858" opacity="0.32"/><rect x="332.0" y="37.7" width="1.1" height="137.4" fill="#666666" opacity="0.34"/><rect x="369.9" y="32.5" width="1.0" height="133.4" fill="#585858" opacity="0.28"/><rect x="425.1" y="48.2" width="1.5" height="126.9" fill="#646464" opacity="0.12"/><rect x="337.8" y="33.3" width="1.2" height="113.5" fill="#696969" opacity="0.11"/><rect x="405.5" y="33.3" width="0.8" height="141.8" fill="#4f4f4f" opacity="0.34"/><rect x="306.4" y="43.0" width="1.2" height="132.1" fill="#6a6a6a" opacity="0.23"/><rect x="317.7" y="47.8" width="1.3" height="99.6" fill="#505050" opacity="0.21"/><rect x="341.2" y="62.1" width="0.8" height="112.8" fill="#4f4f4f" opacity="0.18"/><rect x="404.9" y="52.8" width="1.0" height="122.3" fill="#505050" opacity="0.32"/><rect x="367.9" y="56.1" width="1.5" height="119.0" fill="#5e5e5e" opacity="0.26"/><rect x="378.4" y="41.4" width="0.9" height="96.1" fill="#4d4d4d" opacity="0.28"/><rect x="416.6" y="42.6" width="1.7" height="132.5" fill="#545454" opacity="0.35"/><rect x="406.8" y="29.0" width="1.0" height="146.1" fill="#565656" opacity="0.23"/><rect x="345.2" y="29.0" width="1.3" height="136.2" fill="#525252" opacity="0.17"/><rect x="315.4" y="47.3" width="1.1" height="111.0" fill="#636363" opacity="0.28"/><rect x="415.9" y="30.4" width="1.2" height="142.6" fill="#656565" opacity="0.35"/><rect x="333.7" y="32.4" width="1.0" height="102.4" fill="#676767" opacity="0.14"/><rect x="367.6" y="53.6" width="1.7" height="121.5" fill="#696969" opacity="0.10"/><rect x="315.3" y="54.6" width="0.9" height="83.2" fill="#5c5c5c" opacity="0.34"/><rect x="403.3" y="61.7" width="1.1" height="73.4" fill="#585858" opacity="0.34"/><rect x="387.0" y="52.9" width="1.4" height="79.2" fill="#5b5b5b" opacity="0.29"/><rect x="394.4" y="29.6" width="1.1" height="124.0" fill="#646464" opacity="0.12"/><rect x="362.9" y="58.9" width="0.9" height="116.2" fill="#4d4d4d" opacity="0.26"/><rect x="389.3" y="54.6" width="1.0" height="84.1" fill="#565656" opacity="0.22"/><rect x="313.0" y="31.5" width="1.5" height="113.6" fill="#545454" opacity="0.17"/><rect x="398.3" y="47.9" width="1.2" height="127.2" fill="#585858" opacity="0.29"/><rect x="331.3" y="33.5" width="1.0" height="141.6" fill="#5c5c5c" opacity="0.25"/><rect x="324.7" y="53.9" width="1.1" height="88.6" fill="#595959" opacity="0.34"/><rect x="402.4" y="28.1" width="1.0" height="131.5" fill="#4f4f4f" opacity="0.30"/><rect x="310.6" y="55.4" width="1.2" height="105.8" fill="#565656" opacity="0.26"/><rect x="329.2" y="29.1" width="1.1" height="146.0" fill="#606060" opacity="0.16"/><rect x="304.4" y="37.1" width="1.4" height="138.0" fill="#595959" opacity="0.27"/><rect x="416.5" y="42.5" width="1.6" height="106.0" fill="#686868" opacity="0.28"/><rect x="318.1" y="43.7" width="0.9" height="104.0" fill="#5f5f5f" opacity="0.24"/><rect x="422.0" y="40.4" width="1.6" height="134.7" fill="#595959" opacity="0.29"/><rect x="420.9" y="44.2" width="1.4" height="130.9" fill="#5c5c5c" opacity="0.34"/><rect x="416.3" y="27.9" width="0.9" height="128.6" fill="#626262" opacity="0.21"/><rect x="366.5" y="46.1" width="0.9" height="129.0" fill="#4e4e4e" opacity="0.11"/><rect x="415.4" y="38.3" width="1.5" height="117.5" fill="#4f4f4f" opacity="0.19"/><rect x="420.4" y="58.4" width="1.2" height="116.7" fill="#525252" opacity="0.23"/><rect x="316.5" y="39.1" width="1.5" height="125.2" fill="#525252" opacity="0.13"/><rect x="312.8" y="38.3" width="1.8" height="136.8" fill="#545454" opacity="0.32"/><rect x="327.8" y="52.9" width="1.4" height="122.2" fill="#676767" opacity="0.29"/><rect x="400.6" y="47.2" width="1.5" height="118.6" fill="#696969" opacity="0.29"/><rect x="308.3" y="56.7" width="0.8" height="112.8" fill="#545454" opacity="0.19"/><rect x="285.9" y="27.6" width="0.9" height="51.8" fill="#4d4d4d" opacity="0.39"/><rect x="294.4" y="36.7" width="1.5" height="28.1" fill="#565656" opacity="0.32"/><rect x="294.6" y="37.7" width="1.8" height="32.5" fill="#4d4d4d" opacity="0.33"/><rect x="300.9" y="29.0" width="1.1" height="37.3" fill="#4d4d4d" opacity="0.37"/><rect x="297.5" y="32.2" width="1.4" height="40.3" fill="#545454" opacity="0.37"/><rect x="301.0" y="29.8" width="1.5" height="49.6" fill="#4e4e4e" opacity="0.35"/><rect x="301.3" y="37.8" width="1.6" height="27.0" fill="#515151" opacity="0.28"/><rect x="285.6" y="27.7" width="1.5" height="43.7" fill="#656565" opacity="0.28"/><rect x="298.6" y="33.6" width="1.6" height="45.8" fill="#4e4e4e" opacity="0.25"/><rect x="284.3" y="30.0" width="1.3" height="49.4" fill="#646464" opacity="0.38"/><rect x="298.3" y="130.1" width="0.8" height="42.7" fill="#535353" opacity="0.18"/><rect x="291.0" y="137.0" width="0.8" height="38.1" fill="#717171" opacity="0.29"/><rect x="279.1" y="131.0" width="1.5" height="44.1" fill="#646464" opacity="0.19"/><rect x="280.6" y="136.5" width="0.9" height="32.1" fill="#696969" opacity="0.12"/><rect x="283.1" y="129.4" width="1.5" height="45.7" fill="#656565" opacity="0.24"/><rect x="278.1" y="134.4" width="1.6" height="38.5" fill="#656565" opacity="0.18"/><rect x="297.3" y="135.8" width="1.2" height="37.9" fill="#505050" opacity="0.22"/><rect x="294.8" y="127.5" width="1.5" height="47.6" fill="#535353" opacity="0.17"/><rect x="299.3" y="132.5" width="1.0" height="34.1" fill="#606060" opacity="0.28"/><rect x="288.2" y="133.2" width="0.8" height="33.5" fill="#616161" opacity="0.10"/><ellipse cx="289.50" cy="106.40" rx="5.50" ry="13.00" fill="#b5b5b5" opacity="0.75" filter="url(#b15)"/><ellipse cx="289.00" cy="137.90" rx="3.50" ry="5.00" fill="#ababab" filter="url(#b15)"/><ellipse cx="278.50" cy="137.90" rx="1.50" ry="3.00" fill="#8c8c8c" filter="url(#b15)"/><rect x="299.20" y="29.40" width="1.50" height="145.70" fill="#5e5e5e" opacity="0.8" filter="url(#b05)"/><rect x="347.20" y="32.40" width="1.50" height="127.00" fill="#616161" opacity="0.9" filter="url(#b05)"/><rect x="415.60" y="24.40" width="1.50" height="150.70" fill="#5e5e5e" opacity="0.9" filter="url(#b05)"/><rect x="292.30" y="32.40" width="1.30" height="47.00" fill="#525252" opacity="0.7" filter="url(#b05)"/><rect x="350.00" y="108.40" width="1.50" height="7.00" fill="#6b6b6b" opacity="0.5" filter="url(#b05)"/><rect x="362.00" y="108.40" width="1.50" height="7.00" fill="#6b6b6b" opacity="0.5" filter="url(#b05)"/><rect x="385.00" y="108.40" width="1.50" height="7.00" fill="#6b6b6b" opacity="0.5" filter="url(#b05)"/><rect x="395.00" y="108.40" width="1.50" height="7.00" fill="#6b6b6b" opacity="0.5" filter="url(#b05)"/><rect x="407.00" y="108.40" width="1.50" height="7.00" fill="#6b6b6b" opacity="0.5" filter="url(#b05)"/></g></g><rect x="428.1" y="24.2" width="11.70" height="151.00" fill="url(#cbg)" filter="url(#jetc)"/><g clip-path="url(#clipe)"><g filter="url(#jet)"><rect x="272.60" y="196.60" width="155.00" height="156.70" fill="url(#g16)"/><rect x="272.60" y="196.60" width="29.40" height="156.70" fill="url(#g17)"/><rect x="348.50" y="196.60" width="79.10" height="156.70" fill="url(#g18)"/><rect x="393.0" y="214.5" width="1.0" height="134.8" fill="#656565" opacity="0.18"/><rect x="348.3" y="210.7" width="0.9" height="106.0" fill="#5a5a5a" opacity="0.27"/><rect x="354.9" y="218.0" width="0.8" height="131.3" fill="#484848" opacity="0.32"/><rect x="392.9" y="221.6" width="1.5" height="91.1" fill="#545454" opacity="0.16"/><rect x="388.6" y="221.1" width="1.4" height="116.9" fill="#5f5f5f" opacity="0.32"/><rect x="360.0" y="229.0" width="1.1" height="83.3" fill="#646464" opacity="0.21"/><rect x="396.4" y="213.8" width="1.0" height="125.1" fill="#535353" opacity="0.11"/><rect x="314.9" y="226.9" width="1.7" height="106.2" fill="#585858" opacity="0.33"/><rect x="313.3" y="213.6" width="1.4" height="135.7" fill="#545454" opacity="0.29"/><rect x="416.8" y="211.9" width="1.8" height="137.4" fill="#494949" opacity="0.23"/><rect x="350.0" y="204.6" width="1.0" height="114.5" fill="#515151" opacity="0.13"/><rect x="333.4" y="229.2" width="1.7" height="120.1" fill="#4c4c4c" opacity="0.17"/><rect x="401.9" y="217.0" width="1.0" height="132.3" fill="#494949" opacity="0.33"/><rect x="338.9" y="211.0" width="1.0" height="131.3" fill="#585858" opacity="0.30"/><rect x="404.6" y="224.6" width="1.4" height="102.5" fill="#5e5e5e" opacity="0.12"/><rect x="373.9" y="218.6" width="0.9" height="130.7" fill="#545454" opacity="0.28"/><rect x="369.4" y="235.6" width="1.6" height="113.7" fill="#545454" opacity="0.30"/><rect x="381.0" y="230.0" width="1.0" height="119.3" fill="#5b5b5b" opacity="0.16"/><rect x="420.6" y="214.3" width="1.1" height="125.7" fill="#666666" opacity="0.11"/><rect x="325.6" y="204.1" width="1.7" height="145.2" fill="#484848" opacity="0.26"/><rect x="385.9" y="217.6" width="1.3" height="131.7" fill="#4c4c4c" opacity="0.18"/><rect x="305.2" y="228.4" width="1.3" height="120.9" fill="#4e4e4e" opacity="0.33"/><rect x="316.7" y="205.7" width="1.6" height="125.2" fill="#636363" opacity="0.29"/><rect x="316.0" y="228.6" width="1.3" height="83.2" fill="#5a5a5a" opacity="0.22"/><rect x="367.5" y="208.6" width="1.5" height="137.8" fill="#616161" opacity="0.10"/><rect x="384.2" y="237.2" width="1.0" height="84.9" fill="#5a5a5a" opacity="0.34"/><rect x="390.7" y="218.5" width="1.4" height="118.1" fill="#595959" opacity="0.24"/><rect x="332.8" y="236.1" width="1.5" height="103.4" fill="#545454" opacity="0.18"/><rect x="334.4" y="238.0" width="1.3" height="111.3" fill="#575757" opacity="0.23"/><rect x="308.8" y="233.4" width="1.7" height="101.8" fill="#555555" opacity="0.13"/><rect x="384.5" y="230.9" width="1.2" height="82.0" fill="#555555" opacity="0.35"/><rect x="304.7" y="222.9" width="1.4" height="116.2" fill="#575757" opacity="0.30"/><rect x="383.9" y="222.4" width="0.8" height="126.9" fill="#4d4d4d" opacity="0.10"/><rect x="368.7" y="236.2" width="1.7" height="113.1" fill="#5d5d5d" opacity="0.17"/><rect x="419.0" y="232.8" width="1.8" height="116.5" fill="#4b4b4b" opacity="0.34"/><rect x="353.0" y="211.1" width="1.4" height="114.2" fill="#494949" opacity="0.22"/><rect x="329.9" y="220.0" width="1.4" height="129.3" fill="#636363" opacity="0.25"/><rect x="310.9" y="207.2" width="1.3" height="120.4" fill="#4e4e4e" opacity="0.17"/><rect x="392.7" y="223.7" width="1.2" height="91.0" fill="#5f5f5f" opacity="0.28"/><rect x="343.0" y="227.9" width="1.0" height="121.4" fill="#626262" opacity="0.35"/><rect x="385.8" y="236.7" width="1.1" height="112.6" fill="#515151" opacity="0.15"/><rect x="404.8" y="231.3" width="1.2" height="105.4" fill="#5d5d5d" opacity="0.29"/><rect x="417.7" y="228.9" width="1.8" height="100.7" fill="#545454" opacity="0.32"/><rect x="364.1" y="205.0" width="1.1" height="126.8" fill="#5a5a5a" opacity="0.34"/><rect x="315.9" y="204.1" width="1.0" height="110.6" fill="#4f4f4f" opacity="0.26"/><rect x="329.9" y="236.6" width="0.8" height="101.2" fill="#4b4b4b" opacity="0.35"/><rect x="344.4" y="209.0" width="1.2" height="104.1" fill="#4f4f4f" opacity="0.31"/><rect x="337.2" y="237.0" width="1.3" height="86.2" fill="#5e5e5e" opacity="0.34"/><rect x="407.9" y="214.5" width="1.3" height="105.4" fill="#656565" opacity="0.22"/><rect x="402.6" y="213.3" width="0.8" height="129.5" fill="#545454" opacity="0.26"/><rect x="383.2" y="208.1" width="1.0" height="141.2" fill="#4f4f4f" opacity="0.11"/><rect x="367.9" y="216.9" width="1.2" height="99.5" fill="#595959" opacity="0.14"/><rect x="357.4" y="224.5" width="1.1" height="124.8" fill="#666666" opacity="0.34"/><rect x="386.0" y="213.1" width="1.3" height="122.0" fill="#545454" opacity="0.12"/><rect x="310.6" y="228.8" width="1.5" height="106.2" fill="#646464" opacity="0.15"/><rect x="334.4" y="218.3" width="1.1" height="104.8" fill="#565656" opacity="0.17"/><rect x="405.5" y="223.7" width="1.0" height="122.4" fill="#656565" opacity="0.24"/><rect x="332.0" y="226.8" width="0.8" height="95.4" fill="#505050" opacity="0.13"/><rect x="411.3" y="212.6" width="1.7" height="98.3" fill="#5e5e5e" opacity="0.18"/><rect x="363.0" y="226.4" width="1.3" height="122.9" fill="#5f5f5f" opacity="0.33"/><rect x="325.1" y="228.5" width="1.7" height="119.3" fill="#5c5c5c" opacity="0.11"/><rect x="382.6" y="213.1" width="0.8" height="136.2" fill="#565656" opacity="0.34"/><rect x="407.8" y="213.4" width="0.9" height="135.9" fill="#4b4b4b" opacity="0.18"/><rect x="351.1" y="205.9" width="1.2" height="143.4" fill="#575757" opacity="0.30"/><rect x="329.5" y="226.5" width="1.2" height="122.8" fill="#4c4c4c" opacity="0.25"/><rect x="359.5" y="233.2" width="1.4" height="114.2" fill="#5f5f5f" opacity="0.29"/><rect x="371.9" y="220.6" width="1.7" height="118.0" fill="#5d5d5d" opacity="0.15"/><rect x="398.6" y="203.9" width="1.7" height="145.4" fill="#636363" opacity="0.27"/><rect x="333.1" y="207.7" width="1.4" height="99.4" fill="#4e4e4e" opacity="0.21"/><rect x="303.0" y="227.3" width="1.4" height="118.0" fill="#545454" opacity="0.28"/><rect x="373.7" y="214.1" width="1.0" height="135.2" fill="#515151" opacity="0.20"/><rect x="373.1" y="228.5" width="1.5" height="120.8" fill="#666666" opacity="0.23"/><rect x="401.2" y="203.8" width="1.3" height="104.3" fill="#5b5b5b" opacity="0.19"/><rect x="410.2" y="209.5" width="1.0" height="122.5" fill="#494949" opacity="0.12"/><rect x="367.5" y="237.5" width="0.8" height="111.8" fill="#4c4c4c" opacity="0.18"/><rect x="339.4" y="212.6" width="1.0" height="110.5" fill="#494949" opacity="0.13"/><rect x="362.8" y="216.6" width="1.3" height="99.0" fill="#5f5f5f" opacity="0.12"/><rect x="362.6" y="211.9" width="1.0" height="121.7" fill="#525252" opacity="0.24"/><rect x="356.4" y="225.5" width="1.4" height="123.8" fill="#5f5f5f" opacity="0.24"/><rect x="375.1" y="205.5" width="0.9" height="143.8" fill="#565656" opacity="0.27"/><rect x="343.8" y="222.6" width="0.9" height="111.4" fill="#575757" opacity="0.20"/><rect x="334.2" y="213.3" width="1.8" height="98.5" fill="#5a5a5a" opacity="0.13"/><rect x="320.1" y="237.2" width="1.2" height="112.1" fill="#606060" opacity="0.23"/><rect x="387.4" y="236.3" width="1.7" height="95.7" fill="#585858" opacity="0.13"/><rect x="364.6" y="233.4" width="1.6" height="76.4" fill="#656565" opacity="0.18"/><rect x="369.9" y="219.6" width="1.1" height="129.7" fill="#555555" opacity="0.13"/><rect x="353.7" y="210.1" width="1.7" height="138.3" fill="#555555" opacity="0.31"/><rect x="338.0" y="204.7" width="1.0" height="106.8" fill="#4d4d4d" opacity="0.27"/><rect x="357.0" y="205.7" width="1.1" height="126.8" fill="#5c5c5c" opacity="0.31"/><rect x="392.5" y="226.5" width="1.6" height="111.0" fill="#4c4c4c" opacity="0.15"/><rect x="293.9" y="216.1" width="1.8" height="39.5" fill="#5c5c5c" opacity="0.37"/><rect x="280.5" y="213.0" width="1.4" height="41.6" fill="#636363" opacity="0.25"/><rect x="298.3" y="215.4" width="1.3" height="30.1" fill="#515151" opacity="0.22"/><rect x="298.9" y="212.7" width="1.6" height="33.4" fill="#545454" opacity="0.32"/><rect x="285.3" y="207.6" width="1.2" height="48.0" fill="#626262" opacity="0.34"/><rect x="292.7" y="216.3" width="0.9" height="37.6" fill="#525252" opacity="0.22"/><rect x="279.2" y="209.0" width="1.5" height="46.6" fill="#595959" opacity="0.29"/><rect x="300.3" y="208.9" width="1.2" height="46.7" fill="#515151" opacity="0.25"/><rect x="295.1" y="215.4" width="0.9" height="26.1" fill="#626262" opacity="0.20"/><rect x="294.1" y="203.7" width="1.5" height="51.9" fill="#5b5b5b" opacity="0.22"/><rect x="284.6" y="303.6" width="1.4" height="32.0" fill="#505050" opacity="0.13"/><rect x="277.1" y="312.1" width="1.2" height="30.7" fill="#6d6d6d" opacity="0.23"/><rect x="295.1" y="309.6" width="1.8" height="25.4" fill="#6f6f6f" opacity="0.29"/><rect x="284.7" y="307.0" width="0.9" height="42.3" fill="#505050" opacity="0.29"/><rect x="287.0" y="307.0" width="1.1" height="42.3" fill="#565656" opacity="0.21"/><rect x="286.4" y="309.9" width="1.6" height="39.4" fill="#5a5a5a" opacity="0.27"/><rect x="301.5" y="300.7" width="1.8" height="48.6" fill="#4e4e4e" opacity="0.18"/><rect x="299.0" y="301.6" width="1.4" height="43.2" fill="#696969" opacity="0.25"/><rect x="292.7" y="308.6" width="1.7" height="38.7" fill="#616161" opacity="0.18"/><rect x="277.3" y="310.4" width="1.1" height="38.9" fill="#5d5d5d" opacity="0.21"/><rect x="276.60" y="232.60" width="147.00" height="2.60" fill="#454545" opacity="0.75" filter="url(#b05)"/><rect x="348.50" y="225.90" width="75.10" height="2.40" fill="#404040" opacity="0.6" filter="url(#b05)"/><rect x="348.50" y="286.15" width="75.10" height="2.50" fill="#5c5c5c" opacity="0.6" filter="url(#b05)"/><ellipse cx="289.00" cy="283.60" rx="6.00" ry="13.00" fill="#bdbdbd" opacity="0.85" filter="url(#b15)"/><ellipse cx="289.50" cy="314.10" rx="4.00" ry="4.00" fill="#8f8f8f" filter="url(#b15)"/><ellipse cx="278.00" cy="314.10" rx="1.50" ry="3.50" fill="#8c8c8c" filter="url(#b15)"/><rect x="299.50" y="208.60" width="1.50" height="140.70" fill="#5e5e5e" opacity="0.8" filter="url(#b05)"/><rect x="347.20" y="200.60" width="1.50" height="148.70" fill="#666666" opacity="0.9" filter="url(#b05)"/><rect x="414.50" y="200.60" width="1.50" height="148.70" fill="#616161" opacity="0.9" filter="url(#b05)"/><rect x="292.50" y="208.60" width="1.30" height="52.00" fill="#545454" opacity="0.8" filter="url(#b05)"/><rect x="288.70" y="210.60" width="1.30" height="50.00" fill="#474747" opacity="0.6" filter="url(#b05)"/><rect x="278.50" y="210.60" width="1.30" height="50.00" fill="#3d3d3d" opacity="0.5" filter="url(#b05)"/><rect x="350.00" y="284.60" width="2.00" height="5.50" fill="#8f8f8f" opacity="0.8" filter="url(#b05)"/><rect x="354.00" y="285.10" width="1.50" height="4.50" fill="#858585" opacity="0.7" filter="url(#b05)"/><rect x="366.00" y="285.60" width="1.50" height="4.00" fill="#737373" opacity="0.5" filter="url(#b05)"/><rect x="384.00" y="284.60" width="2.00" height="5.50" fill="#8f8f8f" opacity="0.8" filter="url(#b05)"/><rect x="388.00" y="284.60" width="2.00" height="5.50" fill="#949494" opacity="0.8" filter="url(#b05)"/><rect x="392.00" y="285.10" width="1.50" height="4.50" fill="#858585" opacity="0.7" filter="url(#b05)"/><rect x="404.00" y="284.60" width="2.00" height="5.50" fill="#8f8f8f" opacity="0.8" filter="url(#b05)"/><rect x="407.50" y="284.60" width="2.00" height="5.50" fill="#8c8c8c" opacity="0.8" filter="url(#b05)"/><rect x="413.50" y="274.60" width="1.50" height="12.00" fill="#858585" opacity="0.7" filter="url(#b05)"/></g></g><rect x="428.1" y="200.3" width="11.30" height="149.40" fill="url(#cbg)" filter="url(#jetc)"/><g clip-path="url(#clipf)"><g filter="url(#jet)"><rect x="273.70" y="371.40" width="154.00" height="158.20" fill="url(#g19)"/><rect x="273.70" y="371.40" width="28.30" height="158.20" fill="url(#g20)"/><rect x="350.00" y="371.40" width="77.70" height="158.20" fill="url(#g21)"/><rect x="392.00" y="371.40" width="35.70" height="158.20" fill="url(#g22)"/><rect x="353.4" y="398.0" width="0.9" height="108.9" fill="url(#sfw)" opacity="0.02"/><rect x="322.3" y="393.2" width="1.1" height="132.4" fill="url(#sfw)" opacity="0.03"/><rect x="307.5" y="380.7" width="1.7" height="144.9" fill="url(#sfw)" opacity="0.05"/><rect x="351.0" y="397.2" width="1.6" height="90.3" fill="url(#sfw)" opacity="0.06"/><rect x="402.3" y="383.8" width="1.6" height="141.8" fill="url(#sfw)" opacity="0.04"/><rect x="417.3" y="388.4" width="1.7" height="93.5" fill="url(#sfw)" opacity="0.04"/><rect x="409.6" y="412.9" width="1.1" height="112.7" fill="url(#sfw)" opacity="0.05"/><rect x="387.6" y="400.9" width="1.6" height="124.7" fill="url(#sfw)" opacity="0.03"/><rect x="376.6" y="405.9" width="1.2" height="119.7" fill="url(#sfw)" opacity="0.03"/><rect x="375.8" y="401.9" width="1.2" height="89.1" fill="url(#sfw)" opacity="0.03"/><rect x="397.1" y="401.2" width="1.7" height="124.4" fill="url(#sfw)" opacity="0.04"/><rect x="419.9" y="385.2" width="0.9" height="102.0" fill="url(#sfw)" opacity="0.02"/><rect x="401.5" y="404.7" width="1.0" height="120.9" fill="url(#sfw)" opacity="0.03"/><rect x="394.6" y="392.4" width="1.5" height="133.2" fill="url(#sfw)" opacity="0.03"/><rect x="339.1" y="397.3" width="1.1" height="108.5" fill="url(#sfw)" opacity="0.05"/><rect x="326.7" y="400.3" width="1.3" height="120.7" fill="url(#sfw)" opacity="0.06"/><rect x="373.1" y="388.9" width="1.2" height="108.5" fill="url(#sfw)" opacity="0.02"/><rect x="403.7" y="386.9" width="1.3" height="130.3" fill="url(#sfw)" opacity="0.03"/><rect x="356.9" y="389.8" width="1.3" height="135.8" fill="url(#sfw)" opacity="0.05"/><rect x="359.7" y="394.7" width="1.4" height="89.4" fill="url(#sfw)" opacity="0.04"/><rect x="347.0" y="383.6" width="0.8" height="142.0" fill="url(#sfw)" opacity="0.02"/><rect x="315.9" y="391.1" width="1.4" height="134.5" fill="url(#sfw)" opacity="0.04"/><rect x="359.2" y="414.2" width="0.8" height="90.7" fill="url(#sfw)" opacity="0.04"/><rect x="323.6" y="405.4" width="1.3" height="87.8" fill="url(#sfw)" opacity="0.02"/><rect x="308.3" y="389.6" width="1.5" height="110.3" fill="url(#sfw)" opacity="0.02"/><rect x="376.4" y="391.5" width="1.5" height="134.1" fill="url(#sfw)" opacity="0.05"/><rect x="332.3" y="389.4" width="1.4" height="122.4" fill="url(#sfw)" opacity="0.04"/><rect x="370.7" y="396.9" width="1.0" height="128.7" fill="url(#sfw)" opacity="0.04"/><rect x="331.4" y="413.8" width="1.5" height="76.1" fill="url(#sfw)" opacity="0.05"/><rect x="339.4" y="382.2" width="0.8" height="131.6" fill="url(#sfw)" opacity="0.04"/><rect x="404.5" y="399.2" width="1.2" height="92.7" fill="url(#sfw)" opacity="0.05"/><rect x="308.1" y="409.9" width="1.7" height="115.7" fill="url(#sfw)" opacity="0.03"/><rect x="318.5" y="384.9" width="1.7" height="105.3" fill="url(#sfw)" opacity="0.04"/><rect x="348.9" y="406.5" width="1.4" height="75.6" fill="url(#sfw)" opacity="0.03"/><rect x="415.8" y="402.5" width="1.7" height="90.9" fill="url(#sfw)" opacity="0.05"/><rect x="420.4" y="409.8" width="1.0" height="115.8" fill="url(#sfw)" opacity="0.06"/><rect x="304.3" y="380.3" width="1.5" height="110.6" fill="url(#sfw)" opacity="0.04"/><rect x="333.9" y="409.2" width="1.3" height="109.8" fill="url(#sfw)" opacity="0.05"/><rect x="383.2" y="398.1" width="1.5" height="104.8" fill="url(#sfw)" opacity="0.04"/><rect x="378.9" y="393.2" width="1.0" height="132.4" fill="url(#sfw)" opacity="0.05"/><rect x="395.1" y="408.7" width="1.5" height="88.8" fill="url(#sfw)" opacity="0.06"/><rect x="312.8" y="402.3" width="1.3" height="104.9" fill="url(#sfw)" opacity="0.04"/><rect x="353.8" y="401.8" width="1.6" height="123.8" fill="url(#sfw)" opacity="0.04"/><rect x="382.0" y="390.8" width="1.2" height="134.8" fill="url(#sfw)" opacity="0.06"/><rect x="329.2" y="399.3" width="1.0" height="126.3" fill="url(#sfw)" opacity="0.04"/><rect x="307.0" y="394.2" width="1.1" height="88.8" fill="url(#sfw)" opacity="0.04"/><rect x="337.0" y="395.6" width="1.5" height="130.0" fill="url(#sfw)" opacity="0.06"/><rect x="345.1" y="406.0" width="1.6" height="119.6" fill="url(#sfw)" opacity="0.02"/><rect x="377.6" y="395.1" width="1.0" height="130.5" fill="url(#sfw)" opacity="0.06"/><rect x="365.9" y="399.3" width="1.6" height="120.4" fill="url(#sfw)" opacity="0.05"/><rect x="341.1" y="381.8" width="1.2" height="132.8" fill="url(#sfw)" opacity="0.04"/><rect x="323.3" y="400.6" width="0.8" height="102.1" fill="url(#sfw)" opacity="0.02"/><rect x="386.8" y="410.1" width="1.2" height="110.3" fill="url(#sfw)" opacity="0.02"/><rect x="343.2" y="389.2" width="1.0" height="136.4" fill="url(#sfw)" opacity="0.06"/><rect x="360.6" y="383.2" width="0.9" height="142.4" fill="url(#sfw)" opacity="0.03"/><rect x="408.3" y="395.8" width="1.5" height="129.8" fill="url(#sfw)" opacity="0.03"/><rect x="303.7" y="396.1" width="1.7" height="129.5" fill="url(#sfw)" opacity="0.03"/><rect x="408.9" y="396.1" width="1.7" height="109.3" fill="url(#sfw)" opacity="0.02"/><rect x="345.1" y="386.7" width="1.5" height="134.8" fill="url(#sfw)" opacity="0.02"/><rect x="364.9" y="398.3" width="1.6" height="103.9" fill="url(#sfw)" opacity="0.04"/><rect x="396.2" y="381.9" width="1.3" height="143.7" fill="url(#sfw)" opacity="0.05"/><rect x="349.3" y="382.6" width="1.6" height="143.0" fill="url(#sfw)" opacity="0.05"/><rect x="403.1" y="381.4" width="0.8" height="113.0" fill="url(#sfw)" opacity="0.03"/><rect x="422.7" y="388.4" width="1.1" height="137.2" fill="url(#sfw)" opacity="0.03"/><rect x="416.5" y="397.7" width="1.4" height="113.1" fill="url(#sfw)" opacity="0.04"/><rect x="322.4" y="391.9" width="1.0" height="133.7" fill="url(#sfw)" opacity="0.05"/><rect x="325.3" y="380.1" width="0.8" height="145.5" fill="url(#sfw)" opacity="0.05"/><rect x="418.8" y="399.7" width="1.1" height="124.5" fill="url(#sfw)" opacity="0.05"/><rect x="341.0" y="404.4" width="0.8" height="121.2" fill="url(#sfw)" opacity="0.05"/><rect x="316.3" y="398.9" width="1.2" height="126.7" fill="url(#sfw)" opacity="0.04"/><rect x="360.4" y="395.7" width="1.8" height="99.3" fill="url(#sfw)" opacity="0.02"/><rect x="349.5" y="390.9" width="1.8" height="134.7" fill="url(#sfw)" opacity="0.04"/><rect x="308.3" y="413.4" width="1.0" height="112.2" fill="url(#sfw)" opacity="0.03"/><rect x="392.7" y="394.2" width="1.3" height="91.2" fill="url(#sfw)" opacity="0.03"/><rect x="302.2" y="401.7" width="1.2" height="91.1" fill="url(#sfw)" opacity="0.05"/><rect x="420.9" y="398.1" width="0.8" height="127.5" fill="url(#sfw)" opacity="0.04"/><rect x="342.7" y="385.8" width="1.4" height="139.8" fill="url(#sfw)" opacity="0.05"/><rect x="305.0" y="401.6" width="1.0" height="124.0" fill="url(#sfw)" opacity="0.04"/><rect x="414.0" y="406.2" width="0.9" height="119.4" fill="url(#sfw)" opacity="0.04"/><rect x="403.6" y="391.4" width="0.9" height="134.2" fill="url(#sfw)" opacity="0.06"/><rect x="358.4" y="382.6" width="1.2" height="143.0" fill="url(#sfk)" opacity="0.05"/><rect x="358.9" y="399.0" width="0.9" height="126.6" fill="url(#sfk)" opacity="0.08"/><rect x="414.0" y="411.2" width="1.6" height="92.5" fill="url(#sfk)" opacity="0.08"/><rect x="398.8" y="382.5" width="1.6" height="123.0" fill="url(#sfk)" opacity="0.09"/><rect x="327.6" y="381.3" width="1.5" height="112.2" fill="url(#sfk)" opacity="0.09"/><rect x="375.7" y="400.3" width="1.1" height="125.3" fill="url(#sfk)" opacity="0.09"/><rect x="387.0" y="400.6" width="1.0" height="125.0" fill="url(#sfk)" opacity="0.10"/><rect x="337.8" y="383.1" width="1.0" height="126.3" fill="url(#sfk)" opacity="0.04"/><rect x="400.2" y="383.9" width="1.5" height="141.7" fill="url(#sfk)" opacity="0.07"/><rect x="404.6" y="391.9" width="1.6" height="133.7" fill="url(#sfk)" opacity="0.08"/><rect x="362.3" y="413.9" width="0.9" height="96.5" fill="url(#sfk)" opacity="0.06"/><rect x="405.2" y="402.9" width="1.2" height="121.7" fill="url(#sfk)" opacity="0.08"/><rect x="377.2" y="402.3" width="1.4" height="123.3" fill="url(#sfk)" opacity="0.07"/><rect x="351.1" y="402.6" width="1.8" height="115.7" fill="url(#sfk)" opacity="0.08"/><rect x="400.8" y="410.6" width="1.3" height="115.0" fill="url(#sfk)" opacity="0.06"/><rect x="360.3" y="393.6" width="1.3" height="132.0" fill="url(#sfk)" opacity="0.07"/><rect x="358.0" y="413.6" width="0.8" height="81.3" fill="url(#sfk)" opacity="0.08"/><rect x="303.2" y="386.4" width="1.0" height="113.3" fill="url(#sfk)" opacity="0.08"/><rect x="395.6" y="410.5" width="1.1" height="115.1" fill="url(#sfk)" opacity="0.09"/><rect x="371.4" y="411.3" width="1.7" height="114.3" fill="url(#sfk)" opacity="0.05"/><rect x="393.2" y="408.2" width="1.8" height="117.4" fill="url(#sfk)" opacity="0.07"/><rect x="406.1" y="397.4" width="0.8" height="128.2" fill="url(#sfk)" opacity="0.06"/><rect x="310.6" y="385.1" width="1.3" height="140.5" fill="url(#sfk)" opacity="0.09"/><rect x="322.6" y="411.5" width="1.1" height="114.1" fill="url(#sfk)" opacity="0.09"/><rect x="322.0" y="390.6" width="1.0" height="134.9" fill="url(#sfk)" opacity="0.08"/><rect x="367.0" y="386.8" width="1.8" height="138.8" fill="url(#sfk)" opacity="0.04"/><rect x="365.4" y="412.7" width="0.8" height="112.9" fill="url(#sfk)" opacity="0.05"/><rect x="389.1" y="396.6" width="1.2" height="129.0" fill="url(#sfk)" opacity="0.08"/><rect x="321.0" y="406.9" width="1.1" height="81.1" fill="url(#sfk)" opacity="0.05"/><rect x="345.3" y="394.8" width="1.5" height="130.8" fill="url(#sfk)" opacity="0.04"/><rect x="354.9" y="400.7" width="1.0" height="124.9" fill="url(#sfk)" opacity="0.10"/><rect x="380.2" y="406.0" width="1.6" height="81.7" fill="url(#sfk)" opacity="0.08"/><rect x="348.5" y="398.3" width="1.6" height="127.3" fill="url(#sfk)" opacity="0.06"/><rect x="306.0" y="412.3" width="1.0" height="113.3" fill="url(#sfk)" opacity="0.04"/><rect x="422.4" y="383.3" width="1.0" height="119.2" fill="url(#sfk)" opacity="0.06"/><rect x="386.3" y="406.9" width="1.2" height="114.4" fill="url(#sfk)" opacity="0.08"/><rect x="361.5" y="396.4" width="0.9" height="128.8" fill="url(#sfk)" opacity="0.08"/><rect x="313.8" y="410.3" width="1.0" height="107.5" fill="url(#sfk)" opacity="0.07"/><rect x="368.3" y="397.2" width="1.2" height="85.1" fill="url(#sfk)" opacity="0.06"/><rect x="403.3" y="382.0" width="1.6" height="136.2" fill="url(#sfk)" opacity="0.08"/><rect x="392.9" y="399.0" width="0.9" height="57.9" fill="url(#sfw)" opacity="0.07"/><rect x="410.0" y="389.1" width="1.5" height="52.0" fill="url(#sfw)" opacity="0.11"/><rect x="410.2" y="396.4" width="1.7" height="69.0" fill="url(#sfw)" opacity="0.09"/><rect x="393.8" y="389.7" width="1.1" height="75.7" fill="url(#sfw)" opacity="0.12"/><rect x="407.1" y="391.6" width="1.2" height="56.7" fill="url(#sfw)" opacity="0.08"/><rect x="410.1" y="381.4" width="1.5" height="74.7" fill="url(#sfw)" opacity="0.08"/><rect x="395.8" y="393.4" width="0.9" height="72.0" fill="url(#sfw)" opacity="0.12"/><rect x="417.8" y="398.1" width="0.9" height="43.4" fill="url(#sfw)" opacity="0.12"/><rect x="421.8" y="394.4" width="0.9" height="71.0" fill="url(#sfw)" opacity="0.07"/><rect x="420.6" y="390.4" width="1.2" height="75.0" fill="url(#sfw)" opacity="0.09"/><rect x="392.9" y="393.8" width="1.7" height="50.3" fill="url(#sfw)" opacity="0.10"/><rect x="405.9" y="383.3" width="1.1" height="82.1" fill="url(#sfw)" opacity="0.09"/><rect x="300.0" y="388.3" width="1.3" height="31.7" fill="url(#sfw)" opacity="0.05"/><rect x="300.9" y="386.2" width="1.7" height="44.2" fill="url(#sfw)" opacity="0.04"/><rect x="299.5" y="385.9" width="1.7" height="31.8" fill="url(#sfw)" opacity="0.08"/><rect x="295.0" y="381.4" width="1.1" height="43.3" fill="url(#sfw)" opacity="0.07"/><rect x="296.4" y="382.4" width="1.3" height="48.0" fill="url(#sfw)" opacity="0.07"/><rect x="295.5" y="383.3" width="1.1" height="46.8" fill="url(#sfw)" opacity="0.07"/><rect x="290.8" y="390.0" width="1.5" height="40.4" fill="url(#sfw)" opacity="0.04"/><rect x="292.3" y="383.5" width="1.2" height="46.9" fill="url(#sfw)" opacity="0.07"/><rect x="288.6" y="384.0" width="1.0" height="43.0" fill="url(#sfw)" opacity="0.07"/><rect x="286.4" y="384.8" width="1.3" height="45.6" fill="url(#sfw)" opacity="0.09"/><rect x="295.0" y="486.2" width="1.7" height="39.4" fill="url(#sfw)" opacity="0.03"/><rect x="284.0" y="478.5" width="0.9" height="34.6" fill="url(#sfw)" opacity="0.02"/><rect x="283.5" y="483.3" width="0.9" height="42.3" fill="url(#sfw)" opacity="0.05"/><rect x="290.8" y="480.9" width="1.1" height="34.6" fill="url(#sfw)" opacity="0.02"/><rect x="280.7" y="476.4" width="1.7" height="37.7" fill="url(#sfw)" opacity="0.02"/><rect x="293.6" y="478.9" width="1.0" height="46.7" fill="url(#sfw)" opacity="0.03"/><rect x="287.8" y="478.5" width="0.8" height="43.8" fill="url(#sfw)" opacity="0.04"/><rect x="281.5" y="479.5" width="1.6" height="43.7" fill="url(#sfw)" opacity="0.04"/><rect x="280.9" y="478.7" width="1.1" height="46.9" fill="url(#sfw)" opacity="0.04"/><rect x="301.1" y="483.3" width="1.6" height="42.3" fill="url(#sfw)" opacity="0.04"/><rect x="350.00" y="460.65" width="73.70" height="1.50" fill="#545454" opacity="0.6" filter="url(#b05)"/><rect x="274.00" y="437.40" width="28.50" height="40.00" rx="8" fill="#a8a8a8" opacity="1" filter="url(#b1)"/><rect x="274.00" y="441.40" width="26.50" height="33.00" rx="8" fill="#c2c2c2" opacity="1" filter="url(#b1)"/><ellipse cx="290.00" cy="457.40" rx="5.50" ry="11.00" fill="#d9d9d9" opacity="0.9" filter="url(#b15)"/><ellipse cx="288.00" cy="490.40" rx="2.50" ry="4.00" fill="#737373" filter="url(#b15)"/><rect x="347.20" y="375.40" width="1.50" height="150.20" fill="#575757" opacity="0.8" filter="url(#b05)"/><rect x="299.50" y="375.40" width="1.50" height="150.20" fill="#575757" opacity="0.6" filter="url(#b05)"/></g></g><rect x="428.4" y="376.4" width="11.10" height="150.00" fill="url(#cbg)" filter="url(#jetc)"/><path d="M41.8,53.30H45.0M43.2,39.87H45.0M43.2,32.02H45.0M43.2,26.45H45.0M41.8,97.90H45.0M43.2,84.47H45.0M43.2,76.62H45.0M43.2,71.05H45.0M43.2,66.73H45.0M43.2,63.19H45.0M43.2,60.21H45.0M43.2,57.62H45.0M43.2,55.34H45.0M41.8,142.50H45.0M43.2,129.07H45.0M43.2,121.22H45.0M43.2,115.65H45.0M43.2,111.33H45.0M43.2,107.79H45.0M43.2,104.81H45.0M43.2,102.22H45.0M43.2,99.94H45.0M43.2,173.67H45.0M43.2,165.82H45.0M43.2,160.25H45.0M43.2,155.93H45.0M43.2,152.39H45.0M43.2,149.41H45.0M43.2,146.82H45.0M43.2,144.54H45.0M44.70,22.8V174.3M83.6,174.3V169.3M138.5,174.3V169.3M189.5,174.3V169.3M43.8,230.30H47.0M45.2,216.87H47.0M45.2,209.02H47.0M45.2,203.45H47.0M43.8,274.90H47.0M45.2,261.47H47.0M45.2,253.62H47.0M45.2,248.05H47.0M45.2,243.73H47.0M45.2,240.19H47.0M45.2,237.21H47.0M45.2,234.62H47.0M45.2,232.34H47.0M43.8,319.50H47.0M45.2,306.07H47.0M45.2,298.22H47.0M45.2,292.65H47.0M45.2,288.33H47.0M45.2,284.79H47.0M45.2,281.81H47.0M45.2,279.22H47.0M45.2,276.94H47.0M45.2,342.82H47.0M45.2,337.25H47.0M45.2,332.93H47.0M45.2,329.39H47.0M45.2,326.41H47.0M45.2,323.82H47.0M45.2,321.54H47.0M46.70,199.8V349.6M85.5,349.6V344.6M139.2,349.6V344.6M190.5,349.6V344.6M43.8,406.60H47.0M45.2,393.17H47.0M45.2,385.32H47.0M45.2,379.75H47.0M43.8,451.20H47.0M45.2,437.77H47.0M45.2,429.92H47.0M45.2,424.35H47.0M45.2,420.03H47.0M45.2,416.49H47.0M45.2,413.51H47.0M45.2,410.92H47.0M45.2,408.64H47.0M43.8,495.80H47.0M45.2,482.37H47.0M45.2,474.52H47.0M45.2,468.95H47.0M45.2,464.63H47.0M45.2,461.09H47.0M45.2,458.11H47.0M45.2,455.52H47.0M45.2,453.24H47.0M45.2,519.12H47.0M45.2,513.55H47.0M45.2,509.23H47.0M45.2,505.69H47.0M45.2,502.71H47.0M45.2,500.12H47.0M45.2,497.84H47.0M46.70,376.1V526.4M83.5,526.4V521.4M138.0,526.4V521.4M189.2,526.4V521.4M272.8,54.90H276.0M274.2,41.47H276.0M274.2,33.62H276.0M274.2,28.05H276.0M272.8,99.50H276.0M274.2,86.07H276.0M274.2,78.22H276.0M274.2,72.65H276.0M274.2,68.33H276.0M274.2,64.79H276.0M274.2,61.81H276.0M274.2,59.22H276.0M274.2,56.94H276.0M272.8,144.10H276.0M274.2,130.67H276.0M274.2,122.82H276.0M274.2,117.25H276.0M274.2,112.93H276.0M274.2,109.39H276.0M274.2,106.41H276.0M274.2,103.82H276.0M274.2,101.54H276.0M274.2,175.27H276.0M274.2,167.42H276.0M274.2,161.85H276.0M274.2,157.53H276.0M274.2,153.99H276.0M274.2,151.01H276.0M274.2,148.42H276.0M274.2,146.14H276.0M275.70,24.4V175.1M300.8,175.1V170.1M338.3,175.1V170.1M377.0,175.1V170.1M418.0,175.1V170.1M273.4,231.10H276.6M274.8,217.67H276.6M274.8,209.82H276.6M274.8,204.25H276.6M273.4,275.70H276.6M274.8,262.27H276.6M274.8,254.42H276.6M274.8,248.85H276.6M274.8,244.53H276.6M274.8,240.99H276.6M274.8,238.01H276.6M274.8,235.42H276.6M274.8,233.14H276.6M273.4,320.30H276.6M274.8,306.87H276.6M274.8,299.02H276.6M274.8,293.45H276.6M274.8,289.13H276.6M274.8,285.59H276.6M274.8,282.61H276.6M274.8,280.02H276.6M274.8,277.74H276.6M274.8,343.62H276.6M274.8,338.05H276.6M274.8,333.73H276.6M274.8,330.19H276.6M274.8,327.21H276.6M274.8,324.62H276.6M274.8,322.34H276.6M276.30,200.6V349.3M301.5,349.3V344.3M338.4,349.3V344.3M378.0,349.3V344.3M418.6,349.3V344.3M274.5,405.90H277.7M275.9,392.47H277.7M275.9,384.62H277.7M275.9,379.05H277.7M274.5,450.50H277.7M275.9,437.07H277.7M275.9,429.22H277.7M275.9,423.65H277.7M275.9,419.33H277.7M275.9,415.79H277.7M275.9,412.81H277.7M275.9,410.22H277.7M275.9,407.94H277.7M274.5,495.10H277.7M275.9,481.67H277.7M275.9,473.82H277.7M275.9,468.25H277.7M275.9,463.93H277.7M275.9,460.39H277.7M275.9,457.41H277.7M275.9,454.82H277.7M275.9,452.54H277.7M275.9,518.42H277.7M275.9,512.85H277.7M275.9,508.53H277.7M275.9,504.99H277.7M275.9,502.01H277.7M275.9,499.42H277.7M275.9,497.14H277.7M277.40,375.4V525.6M301.8,525.6V520.6M338.8,525.6V520.6M378.5,525.6V520.6M418.8,525.6V520.6" stroke="#222" stroke-width="0.8" fill="none" opacity="0.85"/><path d="M207.8,25.0H209.5M207.8,47.4H209.5M207.8,69.9H209.5M207.8,92.3H209.5M207.8,114.8H209.5M207.8,137.2H209.5M207.8,159.7H209.5M207.8,202.1H209.5M207.8,224.5H209.5M207.8,247.0H209.5M207.8,269.4H209.5M207.8,291.9H209.5M207.8,314.3H209.5M207.8,336.8H209.5M207.8,378.5H209.5M207.8,400.9H209.5M207.8,423.4H209.5M207.8,445.8H209.5M207.8,468.3H209.5M207.8,490.7H209.5M207.8,513.2H209.5M438,25.2H439.7M438,54.6H439.7M438,84.0H439.7M438,113.5H439.7M438,142.9H439.7M438,172.3H439.7M438,202.5H439.7M438,231.9H439.7M438,261.3H439.7M438,290.8H439.7M438,320.2H439.7M438,349.6H439.7M438,378.9H439.7M438,408.3H439.7M438,437.7H439.7M438,467.2H439.7M438,496.6H439.7M438,526.0H439.7" stroke="#222" stroke-width="0.8" opacity="0.6"/>
<path d="M133.8,39.0L125.9,52.0M125.5,43.4L125.3,53.0L133.4,48.0" fill="none" stroke="#ffffff" stroke-width="2.6" stroke-linecap="butt" stroke-linejoin="miter"/><path d="M93.8,81.9L85.9,94.9M85.5,86.3L85.3,95.9L93.4,90.9" fill="none" stroke="#ffe600" stroke-width="2.6" stroke-linecap="butt" stroke-linejoin="miter"/><path d="M130.6,214.2L122.7,227.2M122.3,218.6L122.1,228.2L130.2,223.2" fill="none" stroke="#ffffff" stroke-width="2.6" stroke-linecap="butt" stroke-linejoin="miter"/><path d="M95.9,263.5L88.0,276.5M87.6,267.9L87.4,277.5L95.5,272.5" fill="none" stroke="#ffe600" stroke-width="2.6" stroke-linecap="butt" stroke-linejoin="miter"/><path d="M82.5,368.4L74.6,381.4M74.2,372.8L74.0,382.4L82.1,377.4" fill="none" stroke="#ffaa00" stroke-width="2.6" stroke-linecap="butt" stroke-linejoin="miter"/><path d="M87.7,381.8L79.8,394.8M79.4,386.2L79.2,395.8L87.3,390.8" fill="none" stroke="#ffaa00" stroke-width="2.6" stroke-linecap="butt" stroke-linejoin="miter"/><path d="M92.6,390.5L84.7,403.5M84.3,394.9L84.1,404.5L92.2,399.5" fill="none" stroke="#ffffff" stroke-width="2.6" stroke-linecap="butt" stroke-linejoin="miter"/><path d="M95.9,445.3L88.0,458.3M87.6,449.7L87.4,459.3L95.5,454.3" fill="none" stroke="#ffe600" stroke-width="2.6" stroke-linecap="butt" stroke-linejoin="miter"/><path d="M339.5,35.8L331.6,48.8M331.2,40.2L331.0,49.8L339.1,44.8" fill="none" stroke="#ffffff" stroke-width="2.6" stroke-linecap="butt" stroke-linejoin="miter"/><path d="M311.7,86.8L303.8,99.8M303.4,91.2L303.2,100.8L311.3,95.8" fill="none" stroke="#ffe600" stroke-width="2.6" stroke-linecap="butt" stroke-linejoin="miter"/><path d="M325.0,215.1L317.1,228.1M316.7,219.5L316.5,229.1L324.6,224.1" fill="none" stroke="#ffffff" stroke-width="2.6" stroke-linecap="butt" stroke-linejoin="miter"/><path d="M334.4,242.4L326.5,255.4M326.1,246.8L325.9,256.4L334.0,251.4" fill="none" stroke="#ff1010" stroke-width="2.6" stroke-linecap="butt" stroke-linejoin="miter"/><path d="M357.6,241.5L349.7,254.5M349.3,245.9L349.1,255.5L357.2,250.5" fill="none" stroke="#ff1010" stroke-width="2.6" stroke-linecap="butt" stroke-linejoin="miter"/><path d="M426.0,242.2L418.1,255.2M417.7,246.6L417.5,256.2L425.6,251.2" fill="none" stroke="#ff1010" stroke-width="2.6" stroke-linecap="butt" stroke-linejoin="miter"/><path d="M380.7,206.5L372.8,219.5M372.4,210.9L372.2,220.5L380.3,215.5" fill="none" stroke="#c8c8cc" stroke-width="2.6" stroke-linecap="butt" stroke-linejoin="miter"/><path d="M402.0,217.6L394.1,230.6M393.7,222.0L393.5,231.6L401.6,226.6" fill="none" stroke="#c8c8cc" stroke-width="2.6" stroke-linecap="butt" stroke-linejoin="miter"/><path d="M312.2,266.0L304.3,279.0M303.9,270.4L303.7,280.0L311.8,275.0" fill="none" stroke="#ffe600" stroke-width="2.6" stroke-linecap="butt" stroke-linejoin="miter"/><path d="M304.6,369.3L296.7,382.3M296.3,373.7L296.1,383.3L304.2,378.3" fill="none" stroke="#ffaa00" stroke-width="2.6" stroke-linecap="butt" stroke-linejoin="miter"/><path d="M304.0,389.8L296.1,402.8M295.7,394.2L295.5,403.8L303.6,398.8" fill="none" stroke="#ffffff" stroke-width="2.6" stroke-linecap="butt" stroke-linejoin="miter"/><path d="M313.2,442.1L305.3,455.1M304.9,446.5L304.7,456.1L312.8,451.1" fill="none" stroke="#ffe600" stroke-width="2.6" stroke-linecap="butt" stroke-linejoin="miter"/>
<text x="33.7" y="17.2" font-size="13" text-anchor="start" font-weight="bold" textLength="16.2" lengthAdjust="spacingAndGlyphs">(a)</text><text x="34.8" y="195.9" font-size="13" text-anchor="start" font-weight="bold" textLength="17.0" lengthAdjust="spacingAndGlyphs">(b)</text><text x="38.8" y="371.2" font-size="13" text-anchor="start" font-weight="bold" textLength="15.2" lengthAdjust="spacingAndGlyphs">(c)</text><text x="263.8" y="18.6" font-size="13" text-anchor="start" font-weight="bold" textLength="17.6" lengthAdjust="spacingAndGlyphs">(d)</text><text x="265.5" y="196" font-size="13" text-anchor="start" font-weight="bold" textLength="17.0" lengthAdjust="spacingAndGlyphs">(e)</text><text x="267.4" y="370.3" font-size="13" text-anchor="start" font-weight="bold" textLength="14.6" lengthAdjust="spacingAndGlyphs">(f)</text><text x="55.6" y="184" font-size="12.6" text-anchor="start" font-weight="normal" textLength="20.0" lengthAdjust="spacingAndGlyphs">Oct</text><text x="100.3" y="184" font-size="12.6" text-anchor="start" font-weight="normal" textLength="23.0" lengthAdjust="spacingAndGlyphs">Nov</text><text x="153.4" y="184" font-size="12.6" text-anchor="start" font-weight="normal" textLength="21.0" lengthAdjust="spacingAndGlyphs">Dec</text><text x="178" y="190.5" font-size="12.6" text-anchor="start" font-weight="normal" textLength="23.8" lengthAdjust="spacingAndGlyphs">2020</text><text x="55.6" y="359" font-size="12.6" text-anchor="start" font-weight="normal" textLength="20.0" lengthAdjust="spacingAndGlyphs">Oct</text><text x="99.4" y="359" font-size="12.6" text-anchor="start" font-weight="normal" textLength="23.0" lengthAdjust="spacingAndGlyphs">Nov</text><text x="152.6" y="359" font-size="12.6" text-anchor="start" font-weight="normal" textLength="21.0" lengthAdjust="spacingAndGlyphs">Dec</text><text x="177.4" y="366" font-size="12.6" text-anchor="start" font-weight="normal" textLength="23.8" lengthAdjust="spacingAndGlyphs">2020</text><text x="57.6" y="536.2" font-size="12.6" text-anchor="start" font-weight="normal" textLength="20.0" lengthAdjust="spacingAndGlyphs">Oct</text><text x="102.1" y="536.5" font-size="12.6" text-anchor="start" font-weight="normal" textLength="23.0" lengthAdjust="spacingAndGlyphs">Nov</text><text x="156.2" y="536.5" font-size="12.6" text-anchor="start" font-weight="normal" textLength="21.0" lengthAdjust="spacingAndGlyphs">Dec</text><text x="179.7" y="542.6" font-size="12.6" text-anchor="start" font-weight="normal" textLength="23.8" lengthAdjust="spacingAndGlyphs">2020</text><text x="278.6" y="185" font-size="12.6" text-anchor="start" font-weight="normal" textLength="20.0" lengthAdjust="spacingAndGlyphs">Oct</text><text x="306" y="184.7" font-size="12.6" text-anchor="start" font-weight="normal" textLength="23.0" lengthAdjust="spacingAndGlyphs">Nov</text><text x="341.7" y="184.7" font-size="12.6" text-anchor="start" font-weight="normal" textLength="21.0" lengthAdjust="spacingAndGlyphs">Dec</text><text x="365.7" y="192.3" font-size="12.6" text-anchor="start" font-weight="normal" textLength="23.8" lengthAdjust="spacingAndGlyphs">2020</text><text x="393" y="184.7" font-size="12.6" text-anchor="start" font-weight="normal" textLength="18.0" lengthAdjust="spacingAndGlyphs">Jan</text><text x="279.5" y="360.5" font-size="12.6" text-anchor="start" font-weight="normal" textLength="20.0" lengthAdjust="spacingAndGlyphs">Oct</text><text x="307" y="360.5" font-size="12.6" text-anchor="start" font-weight="normal" textLength="23.0" lengthAdjust="spacingAndGlyphs">Nov</text><text x="341.9" y="360.5" font-size="12.6" text-anchor="start" font-weight="normal" textLength="21.0" lengthAdjust="spacingAndGlyphs">Dec</text><text x="365.7" y="366.8" font-size="12.6" text-anchor="start" font-weight="normal" textLength="23.8" lengthAdjust="spacingAndGlyphs">2020</text><text x="393.8" y="360.5" font-size="12.6" text-anchor="start" font-weight="normal" textLength="18.0" lengthAdjust="spacingAndGlyphs">Jan</text><text x="278.6" y="536" font-size="12.6" text-anchor="start" font-weight="normal" textLength="20.0" lengthAdjust="spacingAndGlyphs">Oct</text><text x="305.8" y="536" font-size="12.6" text-anchor="start" font-weight="normal" textLength="23.0" lengthAdjust="spacingAndGlyphs">Nov</text><text x="342.4" y="535.8" font-size="12.6" text-anchor="start" font-weight="normal" textLength="21.0" lengthAdjust="spacingAndGlyphs">Dec</text><text x="365" y="543.4" font-size="12.6" text-anchor="start" font-weight="normal" textLength="23.8" lengthAdjust="spacingAndGlyphs">2020</text><text x="393.3" y="536.4" font-size="12.6" text-anchor="start" font-weight="normal" textLength="18.0" lengthAdjust="spacingAndGlyphs">Jan</text><text x="36.300000000000004" y="53.8" font-size="12" text-anchor="end" font-weight="normal" textLength="13.4" lengthAdjust="spacingAndGlyphs">10</text><text x="35.1" y="98.6" font-size="12" text-anchor="end" font-weight="normal" textLength="5.4" lengthAdjust="spacingAndGlyphs">1</text><text x="37.2" y="144.6" font-size="12" text-anchor="end" font-weight="normal" textLength="16.4" lengthAdjust="spacingAndGlyphs">0.1</text><text x="39.2" y="228.8" font-size="12" text-anchor="end" font-weight="normal" textLength="13.4" lengthAdjust="spacingAndGlyphs">10</text><text x="38.0" y="274.0" font-size="12" text-anchor="end" font-weight="normal" textLength="5.4" lengthAdjust="spacingAndGlyphs">1</text><text x="40.6" y="318.8" font-size="12" text-anchor="end" font-weight="normal" textLength="16.4" lengthAdjust="spacingAndGlyphs">0.1</text><text x="39.1" y="408.2" font-size="12" text-anchor="end" font-weight="normal" textLength="13.4" lengthAdjust="spacingAndGlyphs">10</text><text x="37.9" y="452.9" font-size="12" text-anchor="end" font-weight="normal" textLength="5.4" lengthAdjust="spacingAndGlyphs">1</text><text x="40.5" y="497.4" font-size="12" text-anchor="end" font-weight="normal" textLength="16.4" lengthAdjust="spacingAndGlyphs">0.1</text><text x="267.8" y="54.5" font-size="12" text-anchor="end" font-weight="normal" textLength="13.4" lengthAdjust="spacingAndGlyphs">10</text><text x="267.0" y="99.8" font-size="12" text-anchor="end" font-weight="normal" textLength="5.4" lengthAdjust="spacingAndGlyphs">1</text><text x="269.20000000000005" y="144.1" font-size="12" text-anchor="end" font-weight="normal" textLength="16.4" lengthAdjust="spacingAndGlyphs">0.1</text><text x="268.8" y="229.4" font-size="12" text-anchor="end" font-weight="normal" textLength="13.4" lengthAdjust="spacingAndGlyphs">10</text><text x="268.0" y="275.1" font-size="12" text-anchor="end" font-weight="normal" textLength="5.4" lengthAdjust="spacingAndGlyphs">1</text><text x="268.90000000000003" y="319.5" font-size="12" text-anchor="end" font-weight="normal" textLength="16.4" lengthAdjust="spacingAndGlyphs">0.1</text><text x="268.8" y="408.2" font-size="12" text-anchor="end" font-weight="normal" textLength="13.4" lengthAdjust="spacingAndGlyphs">10</text><text x="268.0" y="453.0" font-size="12" text-anchor="end" font-weight="normal" textLength="5.4" lengthAdjust="spacingAndGlyphs">1</text><text x="270.20000000000005" y="498.3" font-size="12" text-anchor="end" font-weight="normal" textLength="16.4" lengthAdjust="spacingAndGlyphs">0.1</text><text transform="translate(12.2,94.6) rotate(-90)" font-size="13" text-anchor="middle" textLength="82.5" lengthAdjust="spacingAndGlyphs">Frequency [Hz]</text><text transform="translate(14.3,269.9) rotate(-90)" font-size="13" text-anchor="middle" textLength="82.5" lengthAdjust="spacingAndGlyphs">Frequency [Hz]</text><text transform="translate(14.5,447.8) rotate(-90)" font-size="13" text-anchor="middle" textLength="82.5" lengthAdjust="spacingAndGlyphs">Frequency [Hz]</text><text x="214.4" y="27.2" font-size="12" text-anchor="start" font-weight="normal" textLength="17.4" lengthAdjust="spacingAndGlyphs">180</text><text x="214.4" y="49.6" font-size="12" text-anchor="start" font-weight="normal" textLength="17.4" lengthAdjust="spacingAndGlyphs">160</text><text x="214.4" y="72.1" font-size="12" text-anchor="start" font-weight="normal" textLength="17.4" lengthAdjust="spacingAndGlyphs">140</text><text x="214.4" y="94.5" font-size="12" text-anchor="start" font-weight="normal" textLength="17.4" lengthAdjust="spacingAndGlyphs">120</text><text x="214.4" y="117.0" font-size="12" text-anchor="start" font-weight="normal" textLength="17.4" lengthAdjust="spacingAndGlyphs">100</text><text x="214.4" y="139.4" font-size="12" text-anchor="start" font-weight="normal" textLength="11.8" lengthAdjust="spacingAndGlyphs">80</text><text x="214.4" y="161.9" font-size="12" text-anchor="start" font-weight="normal" textLength="11.8" lengthAdjust="spacingAndGlyphs">60</text><text x="214.4" y="204.3" font-size="12" text-anchor="start" font-weight="normal" textLength="17.4" lengthAdjust="spacingAndGlyphs">180</text><text x="214.4" y="226.7" font-size="12" text-anchor="start" font-weight="normal" textLength="17.4" lengthAdjust="spacingAndGlyphs">160</text><text x="214.4" y="249.2" font-size="12" text-anchor="start" font-weight="normal" textLength="17.4" lengthAdjust="spacingAndGlyphs">140</text><text x="214.4" y="271.6" font-size="12" text-anchor="start" font-weight="normal" textLength="17.4" lengthAdjust="spacingAndGlyphs">120</text><text x="214.4" y="294.1" font-size="12" text-anchor="start" font-weight="normal" textLength="17.4" lengthAdjust="spacingAndGlyphs">100</text><text x="214.4" y="316.5" font-size="12" text-anchor="start" font-weight="normal" textLength="11.8" lengthAdjust="spacingAndGlyphs">80</text><text x="214.4" y="339.0" font-size="12" text-anchor="start" font-weight="normal" textLength="11.8" lengthAdjust="spacingAndGlyphs">60</text><text x="214.4" y="380.7" font-size="12" text-anchor="start" font-weight="normal" textLength="17.4" lengthAdjust="spacingAndGlyphs">180</text><text x="214.4" y="403.1" font-size="12" text-anchor="start" font-weight="normal" textLength="17.4" lengthAdjust="spacingAndGlyphs">160</text><text x="214.4" y="425.6" font-size="12" text-anchor="start" font-weight="normal" textLength="17.4" lengthAdjust="spacingAndGlyphs">140</text><text x="214.4" y="448.0" font-size="12" text-anchor="start" font-weight="normal" textLength="17.4" lengthAdjust="spacingAndGlyphs">120</text><text x="214.4" y="470.5" font-size="12" text-anchor="start" font-weight="normal" textLength="17.4" lengthAdjust="spacingAndGlyphs">100</text><text x="214.4" y="492.9" font-size="12" text-anchor="start" font-weight="normal" textLength="11.8" lengthAdjust="spacingAndGlyphs">80</text><text x="214.4" y="515.4" font-size="12" text-anchor="start" font-weight="normal" textLength="11.8" lengthAdjust="spacingAndGlyphs">60</text><text x="444.2" y="25.7" font-size="12" text-anchor="start" font-weight="normal" textLength="17.4" lengthAdjust="spacingAndGlyphs">140</text><text x="444.2" y="55.1" font-size="12" text-anchor="start" font-weight="normal" textLength="17.4" lengthAdjust="spacingAndGlyphs">120</text><text x="444.2" y="84.5" font-size="12" text-anchor="start" font-weight="normal" textLength="17.4" lengthAdjust="spacingAndGlyphs">100</text><text x="444.2" y="114.0" font-size="12" text-anchor="start" font-weight="normal" textLength="12.2" lengthAdjust="spacingAndGlyphs">80</text><text x="444.2" y="143.4" font-size="12" text-anchor="start" font-weight="normal" textLength="12.2" lengthAdjust="spacingAndGlyphs">60</text><text x="444.2" y="172.8" font-size="12" text-anchor="start" font-weight="normal" textLength="12.2" lengthAdjust="spacingAndGlyphs">40</text><text x="444.2" y="203.0" font-size="12" text-anchor="start" font-weight="normal" textLength="17.4" lengthAdjust="spacingAndGlyphs">140</text><text x="444.2" y="232.4" font-size="12" text-anchor="start" font-weight="normal" textLength="17.4" lengthAdjust="spacingAndGlyphs">120</text><text x="444.2" y="261.8" font-size="12" text-anchor="start" font-weight="normal" textLength="17.4" lengthAdjust="spacingAndGlyphs">100</text><text x="444.2" y="291.3" font-size="12" text-anchor="start" font-weight="normal" textLength="12.2" lengthAdjust="spacingAndGlyphs">80</text><text x="444.2" y="320.7" font-size="12" text-anchor="start" font-weight="normal" textLength="12.2" lengthAdjust="spacingAndGlyphs">60</text><text x="444.2" y="350.1" font-size="12" text-anchor="start" font-weight="normal" textLength="12.2" lengthAdjust="spacingAndGlyphs">40</text><text x="444.2" y="379.4" font-size="12" text-anchor="start" font-weight="normal" textLength="17.4" lengthAdjust="spacingAndGlyphs">140</text><text x="444.2" y="408.8" font-size="12" text-anchor="start" font-weight="normal" textLength="17.4" lengthAdjust="spacingAndGlyphs">120</text><text x="444.2" y="438.2" font-size="12" text-anchor="start" font-weight="normal" textLength="17.4" lengthAdjust="spacingAndGlyphs">100</text><text x="444.2" y="467.7" font-size="12" text-anchor="start" font-weight="normal" textLength="12.2" lengthAdjust="spacingAndGlyphs">80</text><text x="444.2" y="497.1" font-size="12" text-anchor="start" font-weight="normal" textLength="12.2" lengthAdjust="spacingAndGlyphs">60</text><text x="444.2" y="526.5" font-size="12" text-anchor="start" font-weight="normal" textLength="12.2" lengthAdjust="spacingAndGlyphs">40</text><text x="215.6" y="11.6" font-size="12" text-anchor="start" font-weight="normal">dB</text><text x="215.8" y="188.6" font-size="12" text-anchor="start" font-weight="normal">dB</text><text x="216.3" y="364.6" font-size="12" text-anchor="start" font-weight="normal">dB</text><text x="445.6" y="12.1" font-size="12" text-anchor="start" font-weight="normal">dB</text><text x="445.7" y="188.7" font-size="12" text-anchor="start" font-weight="normal">dB</text><text x="445.8" y="365.9" font-size="12" text-anchor="start" font-weight="normal">dB</text>
</svg>
</body></html>
